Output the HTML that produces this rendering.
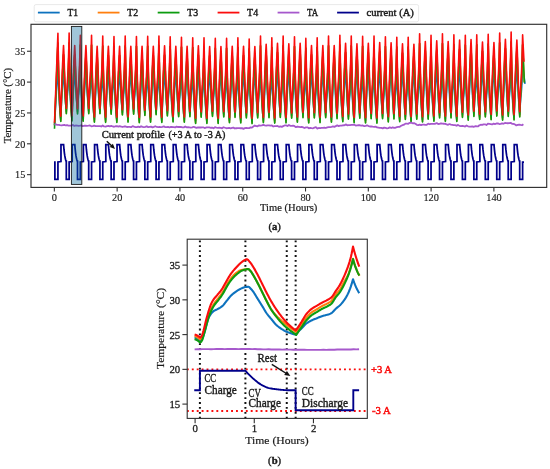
<!DOCTYPE html>
<html lang="en"><head><meta charset="utf-8"><title>Figure</title>
<style>html,body{margin:0;padding:0;background:#fff}body{width:550px;height:469px;overflow:hidden}</style></head>
<body>
<svg width="550" height="469" viewBox="0 0 550 469" style="display:block;font-family:'Liberation Serif',serif">
<style>text{stroke:#1a1a1a;stroke-width:0.4px;paint-order:stroke}text.r{stroke:#fb0d0d}text.t{stroke-width:0.15px}text.ax{stroke-width:0.2px}text.tb{stroke-width:0.3px}text.r{stroke-width:0.5px}</style>
<rect width="550" height="469" fill="#ffffff"/>
<clipPath id="ca"><rect x="31.0" y="24.3" width="515.7" height="163.1"/></clipPath>
<g clip-path="url(#ca)" fill="none" stroke-linejoin="round" stroke-linecap="butt">
<polyline points="54.50,125.29 54.88,118.56 55.26,111.82 55.64,105.09 56.02,98.35 56.41,91.62 56.79,84.88 57.17,78.15 57.55,71.41 57.93,64.68 58.25,76.55 58.56,85.99 58.88,93.58 59.20,99.76 59.52,104.89 59.83,109.21 60.15,112.93 60.47,116.18 60.78,119.08 61.09,111.52 61.39,104.73 61.70,98.97 62.00,93.71 62.31,88.68 62.61,83.90 62.92,79.26 63.22,75.19 63.53,71.60 63.84,75.53 64.15,81.04 64.46,86.94 64.77,92.20 65.08,97.04 65.39,101.05 65.70,104.63 66.02,108.06 66.33,111.33 66.64,106.12 66.95,99.82 67.26,96.18 67.57,93.03 67.88,89.90 68.19,85.72 68.50,80.09 68.81,73.36 69.13,64.62 69.44,76.39 69.76,85.75 70.08,93.28 70.40,99.42 70.71,104.50 71.03,108.79 71.35,112.47 71.66,115.70 71.98,118.58 72.29,111.10 72.59,104.38 72.90,98.68 73.20,93.47 73.51,88.50 73.81,83.77 74.12,79.18 74.42,75.15 74.73,71.60 75.04,75.54 75.35,81.07 75.66,86.98 75.97,92.26 76.28,97.12 76.59,101.14 76.91,104.73 77.22,108.17 77.53,111.45 77.84,106.38 78.15,100.25 78.46,96.70 78.77,93.64 79.08,90.59 79.39,86.52 79.71,81.05 80.02,74.49 80.33,65.98 80.65,77.50 80.96,86.66 81.28,94.02 81.60,100.03 81.92,105.00 82.23,109.20 82.55,112.80 82.87,115.96 83.19,118.77 83.49,111.26 83.80,104.52 84.10,98.80 84.41,93.56 84.71,88.57 85.02,83.82 85.32,79.21 85.63,75.16 85.93,71.60 86.24,75.51 86.56,81.01 86.87,86.88 87.18,92.13 87.49,96.95 87.80,100.94 88.11,104.52 88.42,107.93 88.74,111.19 89.05,106.15 89.36,100.05 89.67,96.53 89.98,93.48 90.29,90.45 90.60,86.40 90.91,80.96 91.23,74.44 91.54,65.98 91.86,77.70 92.17,87.01 92.49,94.50 92.81,100.61 93.13,105.67 93.44,109.94 93.76,113.60 94.08,116.81 94.40,119.68 94.70,112.10 95.01,105.28 95.31,99.51 95.62,94.22 95.92,89.18 96.23,84.38 96.54,79.73 96.84,75.64 97.15,72.04 97.46,75.92 97.77,81.37 98.08,87.19 98.39,92.40 98.70,97.17 99.02,101.13 99.33,104.68 99.64,108.06 99.95,111.29 100.26,106.30 100.57,100.25 100.88,96.76 101.20,93.74 101.51,90.73 101.82,86.72 102.13,81.33 102.44,74.86 102.75,66.48 103.07,78.13 103.39,87.40 103.71,94.84 104.03,100.92 104.34,105.95 104.66,110.19 104.98,113.84 105.30,117.03 105.62,119.88 105.92,112.26 106.23,105.42 106.53,99.62 106.84,94.31 107.14,89.25 107.45,84.43 107.75,79.76 108.06,75.65 108.37,72.04 108.68,75.96 108.99,81.47 109.30,87.36 109.61,92.62 109.92,97.45 110.24,101.46 110.55,105.04 110.86,108.46 111.17,111.73 111.48,106.71 111.79,100.64 112.11,97.13 112.42,94.10 112.73,91.08 113.04,87.05 113.35,81.64 113.67,75.15 113.98,66.72 114.30,78.35 114.61,87.59 114.93,95.02 115.25,101.08 115.57,106.10 115.89,110.33 116.20,113.97 116.52,117.16 116.84,120.00 117.15,112.36 117.45,105.51 117.76,99.69 118.06,94.37 118.37,89.30 118.68,84.46 118.98,79.78 119.29,75.66 119.59,72.04 119.90,76.05 120.22,81.67 120.53,87.69 120.84,93.06 121.15,98.00 121.46,102.09 121.78,105.74 122.09,109.24 122.40,112.58 122.71,107.44 123.02,101.22 123.34,97.62 123.65,94.52 123.96,91.43 124.27,87.30 124.58,81.75 124.90,75.11 125.21,66.48 125.53,78.08 125.84,87.29 126.16,94.71 126.48,100.75 126.80,105.76 127.12,109.98 127.44,113.61 127.75,116.78 128.07,119.62 128.38,112.05 128.68,105.24 128.99,99.47 129.30,94.19 129.60,89.16 129.91,84.36 130.21,79.72 130.52,75.63 130.83,72.04 131.14,75.97 131.45,81.48 131.76,87.38 132.07,92.64 132.39,97.47 132.70,101.48 133.01,105.07 133.32,108.49 133.64,111.76 133.95,106.74 134.26,100.67 134.57,97.15 134.88,94.12 135.20,91.10 135.51,87.07 135.82,81.65 136.13,75.15 136.44,66.72 136.76,78.41 137.08,87.69 137.40,95.16 137.72,101.24 138.04,106.29 138.36,110.54 138.67,114.20 138.99,117.40 139.31,120.25 139.62,112.58 139.92,105.68 140.23,99.84 140.54,94.49 140.84,89.39 141.15,84.53 141.45,79.82 141.76,75.68 142.07,72.04 142.38,76.09 142.69,81.78 143.00,87.86 143.32,93.29 143.63,98.28 143.94,102.41 144.25,106.11 144.57,109.64 144.88,113.02 145.19,107.85 145.50,101.60 145.81,97.98 146.13,94.86 146.44,91.75 146.75,87.60 147.06,82.02 147.38,75.34 147.69,66.66 148.01,78.23 148.33,87.42 148.64,94.81 148.96,100.83 149.28,105.82 149.60,110.03 149.92,113.65 150.24,116.82 150.56,119.65 150.86,112.09 151.17,105.30 151.48,99.54 151.78,94.27 152.09,89.25 152.39,84.46 152.70,79.83 153.01,75.75 153.31,72.16 153.63,76.13 153.94,81.68 154.25,87.63 154.56,92.94 154.88,97.81 155.19,101.85 155.50,105.47 155.81,108.92 156.13,112.22 156.44,107.12 156.75,100.93 157.06,97.36 157.38,94.28 157.69,91.21 158.00,87.11 158.31,81.59 158.63,74.99 158.94,66.41 159.26,78.09 159.58,87.36 159.90,94.82 160.22,100.90 160.53,105.94 160.85,110.19 161.17,113.84 161.49,117.04 161.81,119.89 162.12,112.25 162.42,105.38 162.73,99.55 163.04,94.22 163.34,89.14 163.65,84.29 163.96,79.61 164.26,75.48 164.57,71.85 164.88,75.96 165.19,81.72 165.51,87.89 165.82,93.39 166.13,98.45 166.44,102.64 166.76,106.39 167.07,109.97 167.38,113.39 167.70,108.21 168.01,101.92 168.32,98.29 168.63,95.16 168.95,92.04 169.26,87.87 169.57,82.27 169.88,75.56 170.20,66.85 170.52,78.33 170.84,87.45 171.15,94.79 171.47,100.77 171.79,105.72 172.11,109.90 172.43,113.49 172.75,116.64 173.07,119.45 173.38,111.90 173.68,105.12 173.99,99.37 174.30,94.11 174.60,89.10 174.91,84.32 175.22,79.69 175.52,75.62 175.83,72.04 176.14,76.21 176.46,82.07 176.77,88.34 177.08,93.93 177.39,99.07 177.71,103.33 178.02,107.14 178.33,110.78 178.65,114.25 178.96,109.01 179.27,102.65 179.58,98.98 179.90,95.80 180.21,92.65 180.52,88.43 180.84,82.76 181.15,75.97 181.46,67.16 181.78,78.65 182.10,87.78 182.42,95.12 182.74,101.11 183.06,106.06 183.38,110.25 183.70,113.84 184.02,116.99 184.34,119.80 184.64,112.20 184.95,105.37 185.26,99.57 185.56,94.28 185.87,89.22 186.18,84.41 186.48,79.75 186.79,75.65 187.10,72.04 187.41,76.21 187.72,82.06 188.04,88.32 188.35,93.90 188.66,99.03 188.98,103.29 189.29,107.09 189.60,110.73 189.92,114.20 190.23,108.99 190.54,102.69 190.85,99.04 191.17,95.89 191.48,92.76 191.79,88.58 192.11,82.95 192.42,76.22 192.73,67.47 193.05,79.17 193.37,88.46 193.69,95.94 194.01,102.04 194.33,107.09 194.65,111.34 194.97,115.00 195.29,118.21 195.61,121.07 195.92,113.21 196.22,106.16 196.53,100.17 196.84,94.70 197.14,89.48 197.45,84.50 197.76,79.69 198.07,75.45 198.37,71.72 198.69,75.98 199.00,81.96 199.31,88.35 199.63,94.06 199.94,99.30 200.25,103.64 200.57,107.53 200.88,111.25 201.19,114.79 201.51,109.52 201.82,103.13 202.13,99.44 202.45,96.25 202.76,93.08 203.07,88.85 203.39,83.15 203.70,76.33 204.01,67.47 204.33,79.14 204.65,88.42 204.97,95.88 205.29,101.96 205.61,107.00 205.93,111.25 206.25,114.90 206.57,118.09 206.89,120.95 207.20,113.19 207.50,106.23 207.81,100.32 208.12,94.91 208.43,89.76 208.73,84.85 209.04,80.09 209.35,75.91 209.65,72.23 209.97,76.35 210.28,82.13 210.59,88.32 210.91,93.84 211.22,98.92 211.54,103.12 211.85,106.88 212.16,110.48 212.48,113.91 212.79,108.78 213.10,102.57 213.42,98.99 213.73,95.89 214.04,92.80 214.36,88.69 214.67,83.15 214.98,76.51 215.30,67.90 215.62,79.51 215.94,88.74 216.26,96.16 216.58,102.21 216.90,107.22 217.22,111.44 217.54,115.08 217.86,118.26 218.18,121.10 218.48,113.32 218.79,106.33 219.10,100.40 219.41,94.98 219.71,89.81 220.02,84.88 220.33,80.12 220.64,75.92 220.94,72.23 221.26,76.40 221.57,82.25 221.88,88.51 222.20,94.10 222.51,99.23 222.83,103.49 223.14,107.29 223.45,110.93 223.77,114.40 224.08,109.22 224.39,102.95 224.71,99.32 225.02,96.19 225.33,93.07 225.65,88.91 225.96,83.31 226.28,76.61 226.59,67.90 226.91,79.35 227.23,88.44 227.55,95.75 227.87,101.72 228.19,106.66 228.51,110.82 228.83,114.40 229.15,117.54 229.47,120.34 229.78,112.65 230.09,105.74 230.39,99.88 230.70,94.53 231.01,89.42 231.32,84.55 231.62,79.84 231.93,75.69 232.24,72.04 232.55,76.27 232.87,82.21 233.18,88.57 233.49,94.24 233.81,99.46 234.12,103.78 234.44,107.64 234.75,111.34 235.06,114.86 235.38,109.58 235.69,103.18 236.01,99.49 236.32,96.29 236.63,93.12 236.95,88.88 237.26,83.17 237.57,76.34 237.89,67.47 238.21,79.03 238.53,88.21 238.85,95.60 239.17,101.62 239.49,106.61 239.81,110.82 240.13,114.43 240.45,117.60 240.77,120.43 241.08,112.73 241.39,105.81 241.69,99.94 242.00,94.57 242.31,89.45 242.62,84.57 242.93,79.85 243.23,75.70 243.54,72.04 243.86,76.33 244.17,82.36 244.48,88.81 244.80,94.56 245.11,99.85 245.43,104.23 245.74,108.15 246.05,111.90 246.37,115.47 246.68,110.22 247.00,103.86 247.31,100.18 247.62,97.01 247.94,93.85 248.25,89.63 248.57,83.95 248.88,77.16 249.19,68.34 249.51,79.86 249.84,89.02 250.16,96.38 250.48,102.38 250.80,107.36 251.12,111.55 251.44,115.16 251.76,118.31 252.08,121.13 252.39,113.35 252.70,106.35 253.00,100.42 253.31,95.00 253.62,89.82 253.93,84.89 254.23,80.12 254.54,75.92 254.85,72.23 255.17,76.50 255.48,82.48 255.79,88.89 256.11,94.61 256.42,99.86 256.74,104.21 257.05,108.11 257.36,111.83 257.68,115.38 257.99,109.93 258.31,103.32 258.62,99.50 258.94,96.20 259.25,92.92 259.56,88.54 259.88,82.64 260.19,75.58 260.51,66.41 260.83,78.14 261.15,87.45 261.47,94.94 261.79,101.05 262.11,106.11 262.43,110.38 262.75,114.04 263.07,117.26 263.39,120.12 263.70,112.28 264.01,105.23 264.32,99.25 264.63,93.79 264.93,88.57 265.24,83.60 265.55,78.80 265.86,74.57 266.17,70.84 266.48,75.23 266.80,81.38 267.11,87.96 267.42,93.83 267.74,99.23 268.05,103.70 268.37,107.70 268.68,111.53 269.00,115.17 269.31,109.86 269.63,103.42 269.94,99.70 270.25,96.48 270.57,93.29 270.88,89.02 271.20,83.28 271.51,76.40 271.83,67.47 272.15,79.07 272.47,88.29 272.79,95.71 273.11,101.76 273.43,106.77 273.75,110.99 274.07,114.62 274.39,117.80 274.72,120.64 275.02,112.60 275.33,105.38 275.64,99.26 275.95,93.66 276.26,88.32 276.57,83.22 276.87,78.30 277.18,73.96 277.49,70.15 277.81,74.59 278.12,80.82 278.43,87.49 278.75,93.44 279.06,98.91 279.38,103.44 279.69,107.49 280.01,111.37 280.32,115.06 280.64,109.64 280.95,103.08 281.27,99.28 281.58,96.00 281.90,92.75 282.21,88.39 282.52,82.53 282.84,75.52 283.15,66.41 283.47,78.19 283.80,87.55 284.12,95.07 284.44,101.21 284.76,106.29 285.08,110.58 285.40,114.26 285.72,117.49 286.04,120.37 286.35,112.45 286.66,105.33 286.97,99.29 287.28,93.77 287.59,88.50 287.90,83.48 288.20,78.63 288.51,74.35 288.82,70.59 289.14,75.04 289.45,81.29 289.77,87.98 290.08,93.95 290.39,99.43 290.71,103.98 291.02,108.04 291.34,111.93 291.65,115.64 291.97,110.20 292.28,103.62 292.60,99.81 292.91,96.52 293.23,93.26 293.54,88.89 293.86,83.01 294.17,75.98 294.49,66.85 294.81,78.41 295.13,87.59 295.45,94.97 295.77,100.99 296.09,105.98 296.42,110.19 296.74,113.80 297.06,116.97 297.38,119.79 297.69,111.89 298.00,104.79 298.31,98.77 298.61,93.26 298.92,88.01 299.23,83.01 299.54,78.16 299.85,73.90 300.16,70.15 300.47,74.60 300.79,80.84 301.10,87.53 301.42,93.49 301.73,98.97 302.05,103.51 302.36,107.57 302.68,111.45 302.99,115.15 303.31,109.89 303.62,103.51 303.94,99.83 304.25,96.64 304.57,93.48 304.88,89.25 305.20,83.56 305.51,76.75 305.83,67.90 306.15,79.40 306.47,88.54 306.79,95.89 307.11,101.88 307.44,106.85 307.76,111.03 308.08,114.63 308.40,117.78 308.72,120.59 309.03,112.79 309.34,105.79 309.65,99.84 309.96,94.41 310.27,89.23 310.58,84.29 310.88,79.51 311.19,75.30 311.50,71.60 311.82,75.94 312.13,82.03 312.45,88.54 312.76,94.36 313.08,99.70 313.39,104.12 313.71,108.08 314.02,111.87 314.34,115.48 314.65,110.13 314.97,103.65 315.28,99.91 315.60,96.67 315.91,93.46 316.23,89.16 316.55,83.38 316.86,76.46 317.18,67.47 317.50,78.96 317.82,88.09 318.14,95.43 318.46,101.42 318.78,106.38 319.11,110.56 319.43,114.15 319.75,117.30 320.07,120.11 320.38,112.39 320.69,105.45 321.00,99.57 321.31,94.19 321.62,89.05 321.93,84.16 322.23,79.43 322.54,75.26 322.85,71.60 323.17,75.91 323.48,81.95 323.80,88.42 324.11,94.19 324.43,99.49 324.75,103.89 325.06,107.82 325.38,111.58 325.69,115.16 326.01,109.73 326.32,103.15 326.64,99.35 326.95,96.07 327.27,92.80 327.58,88.44 327.90,82.57 328.21,75.54 328.53,66.41 328.85,78.06 329.17,87.31 329.50,94.75 329.82,100.81 330.14,105.84 330.46,110.08 330.78,113.72 331.11,116.91 331.43,119.76 331.74,112.09 332.05,105.20 332.35,99.36 332.66,94.02 332.97,88.93 333.28,84.07 333.59,79.37 333.90,75.24 334.21,71.60 334.53,76.01 334.84,82.20 335.16,88.82 335.47,94.74 335.79,100.17 336.10,104.67 336.42,108.70 336.74,112.54 337.05,116.22 337.37,110.62 337.68,103.84 338.00,99.92 338.31,96.54 338.63,93.17 338.94,88.67 339.26,82.63 339.58,75.38 339.89,65.98 340.21,77.63 340.54,86.88 340.86,94.32 341.18,100.38 341.50,105.41 341.82,109.65 342.15,113.29 342.47,116.48 342.79,119.33 343.10,111.50 343.41,104.47 343.72,98.50 344.03,93.05 344.34,87.85 344.65,82.89 344.96,78.09 345.27,73.87 345.58,70.15 345.89,74.74 346.21,81.19 346.52,88.09 346.84,94.25 347.15,99.91 347.47,104.60 347.79,108.79 348.10,112.80 348.42,116.62 348.73,111.03 349.05,104.25 349.36,100.34 349.68,96.95 350.00,93.59 350.31,89.10 350.63,83.05 350.94,75.81 351.26,66.41 351.58,78.15 351.90,87.47 352.23,94.96 352.55,101.07 352.87,106.14 353.19,110.41 353.52,114.07 353.84,117.29 354.16,120.16 354.47,112.27 354.78,105.18 355.09,99.17 355.40,93.67 355.71,88.43 356.02,83.43 356.33,78.59 356.64,74.34 356.95,70.59 357.26,75.06 357.58,81.33 357.89,88.04 358.21,94.03 358.53,99.53 358.84,104.09 359.16,108.17 359.47,112.07 359.79,115.79 360.11,110.31 360.42,103.68 360.74,99.85 361.05,96.54 361.37,93.25 361.69,88.85 362.00,82.94 362.32,75.86 362.63,66.66 362.96,78.42 363.28,87.76 363.60,95.27 363.92,101.40 364.25,106.47 364.57,110.75 364.89,114.43 365.21,117.65 365.54,120.53 365.85,112.51 366.16,105.30 366.47,99.19 366.78,93.61 367.09,88.28 367.40,83.20 367.71,78.28 368.02,73.96 368.33,70.15 368.64,74.72 368.96,81.13 369.27,87.99 369.59,94.11 369.91,99.73 370.22,104.39 370.54,108.56 370.85,112.55 371.17,116.35 371.49,110.78 371.80,104.04 372.12,100.15 372.44,96.79 372.75,93.44 373.07,88.97 373.38,82.96 373.70,75.76 374.02,66.41 374.34,78.26 374.66,87.66 374.98,95.23 375.31,101.40 375.63,106.51 375.95,110.82 376.27,114.52 376.60,117.77 376.92,120.66 377.23,112.55 377.54,105.26 377.85,99.08 378.16,93.43 378.47,88.04 378.78,82.90 379.09,77.93 379.40,73.56 379.71,69.71 380.03,74.31 380.34,80.76 380.66,87.66 380.98,93.83 381.29,99.49 381.61,104.18 381.93,108.38 382.24,112.39 382.56,116.22 382.87,110.72 383.19,104.05 383.51,100.20 383.82,96.88 384.14,93.57 384.46,89.15 384.77,83.21 385.09,76.09 385.40,66.85 385.73,78.34 386.05,87.47 386.37,94.82 386.70,100.80 387.02,105.77 387.34,109.95 387.67,113.54 387.99,116.69 388.31,119.50 388.62,111.62 388.93,104.53 389.24,98.52 389.55,93.03 389.86,87.79 390.17,82.79 390.48,77.96 390.79,73.70 391.10,69.96 391.42,74.56 391.74,81.02 392.05,87.93 392.37,94.10 392.69,99.77 393.00,104.46 393.32,108.67 393.64,112.68 393.95,116.51 394.27,111.01 394.58,104.35 394.90,100.50 395.22,97.18 395.53,93.87 395.85,89.45 396.17,83.51 396.48,76.40 396.80,67.16 397.12,78.54 397.45,87.58 397.77,94.85 398.09,100.78 398.42,105.69 398.74,109.83 399.06,113.39 399.39,116.51 399.71,119.29 400.02,111.54 400.33,104.57 400.64,98.67 400.95,93.27 401.26,88.11 401.57,83.20 401.88,78.45 402.19,74.27 402.50,70.59 402.82,75.19 403.14,81.63 403.45,88.53 403.77,94.69 404.09,100.34 404.40,105.03 404.72,109.23 405.04,113.24 405.35,117.06 405.67,111.50 405.99,104.76 406.30,100.87 406.62,97.51 406.94,94.17 407.25,89.70 407.57,83.69 407.89,76.50 408.20,67.16 408.53,78.59 408.85,87.67 409.17,94.98 409.50,100.93 409.82,105.87 410.14,110.03 410.47,113.60 410.79,116.73 411.11,119.53 411.42,111.78 411.73,104.82 412.04,98.91 412.36,93.51 412.67,88.36 412.98,83.45 413.29,78.70 413.60,74.52 413.91,70.84 414.23,75.38 414.54,81.76 414.86,88.58 415.18,94.66 415.49,100.25 415.81,104.89 416.13,109.03 416.44,112.99 416.76,116.77 417.08,111.00 417.39,104.02 417.71,99.98 418.03,96.49 418.35,93.02 418.66,88.38 418.98,82.15 419.30,74.68 419.61,64.99 419.94,76.90 420.26,86.37 420.58,93.99 420.91,100.19 421.23,105.34 421.55,109.67 421.88,113.40 422.20,116.67 422.52,119.58 422.83,111.54 423.15,104.32 423.46,98.19 423.77,92.59 424.08,87.25 424.39,82.16 424.70,77.23 425.01,72.89 425.32,69.08 425.64,73.79 425.96,80.39 426.27,87.46 426.59,93.77 426.91,99.56 427.22,104.37 427.54,108.67 427.86,112.77 428.18,116.69 428.49,111.04 428.81,104.20 429.13,100.24 429.44,96.83 429.76,93.43 430.08,88.89 430.40,82.78 430.71,75.47 431.03,65.98 431.35,77.50 431.68,86.65 432.00,94.01 432.32,100.01 432.65,104.98 432.97,109.17 433.29,112.77 433.62,115.93 433.94,118.75 434.25,110.77 434.56,103.60 434.88,97.53 435.19,91.97 435.50,86.67 435.81,81.61 436.12,76.73 436.43,72.42 436.74,68.64 437.06,73.27 437.38,79.77 437.69,86.72 438.01,92.92 438.33,98.62 438.64,103.35 438.96,107.58 439.28,111.62 439.60,115.47 439.91,109.84 440.23,103.03 440.55,99.09 440.87,95.69 441.18,92.31 441.50,87.79 441.82,81.72 442.14,74.44 442.45,64.99 442.78,76.75 443.10,86.10 443.42,93.61 443.75,99.74 444.07,104.82 444.40,109.10 444.72,112.78 445.04,116.00 445.37,118.88 445.68,110.95 445.99,103.83 446.30,97.79 446.61,92.27 446.92,87.00 447.23,81.98 447.55,77.12 447.86,72.84 448.17,69.08 448.49,73.66 448.80,80.09 449.12,86.97 449.44,93.12 449.76,98.76 450.07,103.44 450.39,107.62 450.71,111.62 451.03,115.43 451.34,109.89 451.66,103.19 451.98,99.31 452.30,95.96 452.61,92.63 452.93,88.18 453.25,82.20 453.57,75.03 453.88,65.73 454.21,77.38 454.53,86.63 454.86,94.07 455.18,100.14 455.50,105.16 455.83,109.40 456.15,113.05 456.48,116.24 456.80,119.08 457.11,110.98 457.42,103.71 457.73,97.53 458.04,91.89 458.36,86.51 458.67,81.37 458.98,76.41 459.29,72.04 459.60,68.20 459.92,72.81 460.24,79.30 460.55,86.23 460.87,92.42 461.19,98.10 461.51,102.82 461.83,107.03 462.14,111.06 462.46,114.90 462.78,109.45 463.10,102.85 463.41,99.03 463.73,95.74 464.05,92.46 464.37,88.08 464.68,82.19 465.00,75.14 465.32,65.98 465.64,77.28 465.97,86.26 466.29,93.48 466.62,99.36 466.94,104.24 467.27,108.35 467.59,111.89 467.91,114.98 468.24,117.75 468.55,109.81 468.86,102.68 469.17,96.63 469.48,91.10 469.80,85.82 470.11,80.80 470.42,75.93 470.73,71.65 471.04,67.88 471.36,72.44 471.68,78.84 472.00,85.68 472.31,91.79 472.63,97.40 472.95,102.05 473.27,106.21 473.59,110.19 473.90,113.98 474.22,108.61 474.54,102.10 474.86,98.33 475.17,95.08 475.49,91.85 475.81,87.53 476.13,81.72 476.45,74.76 476.76,65.73 477.09,76.93 477.41,85.83 477.74,92.99 478.06,98.82 478.39,103.66 478.71,107.73 479.04,111.24 479.36,114.30 479.68,117.04 480.00,109.46 480.31,102.64 480.62,96.86 480.93,91.58 481.24,86.54 481.55,81.73 481.87,77.09 482.18,72.99 482.49,69.39 482.81,73.86 483.13,80.14 483.44,86.85 483.76,92.84 484.08,98.34 484.40,102.90 484.72,106.98 485.03,110.89 485.35,114.60 485.67,109.11 485.99,102.46 486.31,98.61 486.62,95.29 486.94,91.99 487.26,87.57 487.58,81.64 487.90,74.53 488.21,65.30 488.54,76.65 488.86,85.66 489.19,92.91 489.51,98.82 489.84,103.72 490.16,107.85 490.49,111.40 490.81,114.51 491.14,117.28 491.45,109.71 491.76,102.91 492.07,97.14 492.38,91.86 492.70,86.83 493.01,82.03 493.32,77.39 493.63,73.30 493.94,69.71 494.26,74.05 494.58,80.14 494.90,86.66 495.22,92.48 495.54,97.82 495.85,102.25 496.17,106.21 496.49,110.00 496.81,113.62 497.13,108.15 497.44,101.53 497.76,97.70 498.08,94.40 498.40,91.11 498.72,86.72 499.04,80.81 499.35,73.74 499.67,64.55 500.00,76.15 500.32,85.37 500.65,92.78 500.97,98.83 501.30,103.83 501.62,108.05 501.95,111.68 502.27,114.86 502.60,117.70 502.91,109.73 503.22,102.57 503.53,96.49 503.84,90.94 504.16,85.64 504.47,80.60 504.78,75.71 505.09,71.41 505.41,67.63 505.72,72.21 506.04,78.63 506.36,85.51 506.68,91.64 507.00,97.28 507.32,101.95 507.63,106.13 507.95,110.13 508.27,113.93 508.59,108.37 508.91,101.63 509.23,97.74 509.55,94.37 509.86,91.03 510.18,86.56 510.50,80.54 510.82,73.34 511.14,64.00 511.46,75.67 511.79,84.94 512.11,92.40 512.44,98.48 512.76,103.52 513.09,107.77 513.41,111.42 513.74,114.62 514.06,117.47 514.38,109.63 514.69,102.58 515.00,96.61 515.31,91.14 515.62,85.93 515.94,80.96 516.25,76.15 516.56,71.92 516.87,68.20 517.19,72.77 517.51,79.19 517.83,86.06 518.15,92.19 518.47,97.82 518.79,102.49 519.10,106.67 519.42,110.66 519.74,114.47 520.06,109.04 520.38,102.46 520.70,98.66 521.02,95.37 521.33,92.11 521.65,87.75 521.97,81.88 522.29,74.85 522.61,65.73 525.00,83.95" stroke="#0d72be" stroke-width="1.6"/>
<polyline points="54.50,125.29 54.88,116.14 55.26,106.99 55.64,97.84 56.02,88.69 56.41,79.54 56.79,70.40 57.17,61.25 57.55,52.10 57.93,42.95 58.25,59.97 58.56,73.50 58.88,84.37 59.20,93.24 59.52,100.59 59.83,106.78 60.15,112.11 60.47,116.77 60.78,120.93 61.09,110.38 61.39,100.90 61.70,92.86 62.00,85.50 62.31,78.49 62.61,71.80 62.92,65.34 63.22,59.64 63.53,54.63 63.84,60.42 64.15,68.54 64.46,77.24 64.77,84.99 65.08,92.12 65.39,98.03 65.70,103.31 66.02,108.36 66.33,113.18 66.64,105.34 66.95,95.85 67.26,90.37 67.57,85.63 67.88,80.92 68.19,74.62 68.50,66.15 68.81,56.01 69.13,42.85 69.44,59.78 69.76,73.24 70.08,84.06 70.40,92.88 70.71,100.19 71.03,106.35 71.35,111.65 71.66,116.29 71.98,120.43 72.29,109.96 72.59,100.55 72.90,92.57 73.20,85.27 73.51,78.31 73.81,71.67 74.12,65.25 74.42,59.60 74.73,54.63 75.04,60.43 75.35,68.57 75.66,77.28 75.97,85.06 76.28,92.20 76.59,98.12 76.91,103.41 77.22,108.47 77.53,113.30 77.84,105.70 78.15,96.49 78.46,91.16 78.77,86.56 79.08,81.99 79.39,75.88 79.71,67.67 80.02,57.83 80.33,45.05 80.65,61.55 80.96,74.65 81.28,85.19 81.60,93.79 81.92,100.91 82.23,106.91 82.55,112.07 82.87,116.59 83.19,120.63 83.49,110.12 83.80,100.68 84.10,92.68 84.41,85.36 84.71,78.38 85.02,71.72 85.32,65.29 85.63,59.62 85.93,54.63 86.24,60.41 86.56,68.51 86.87,77.18 87.18,84.92 87.49,92.03 87.80,97.93 88.11,103.20 88.42,108.24 88.74,113.04 89.05,105.47 89.36,96.29 89.67,90.99 89.98,86.41 90.29,81.85 90.60,75.77 90.91,67.58 91.23,57.78 91.54,45.05 91.86,61.74 92.17,75.01 92.49,85.67 92.81,94.37 93.13,101.58 93.44,107.65 93.76,112.88 94.08,117.45 94.40,121.53 94.70,110.99 95.01,101.53 95.31,93.50 95.62,86.16 95.92,79.15 96.23,72.48 96.54,66.02 96.84,60.33 97.15,55.33 97.46,61.05 97.77,69.07 98.08,77.65 98.39,85.31 98.70,92.35 99.02,98.18 99.33,103.40 99.64,108.39 99.95,113.14 100.26,105.65 100.57,96.56 100.88,91.32 101.20,86.78 101.51,82.27 101.82,76.25 102.13,68.15 102.44,58.45 102.75,45.85 103.07,62.41 103.39,75.57 103.71,86.16 104.03,94.78 104.34,101.93 104.66,107.96 104.98,113.14 105.30,117.68 105.62,121.73 105.92,111.16 106.23,101.67 106.53,93.61 106.84,86.25 107.14,79.22 107.45,72.53 107.75,66.05 108.06,60.35 108.37,55.33 108.68,61.09 108.99,69.17 109.30,77.82 109.61,85.54 109.92,92.63 110.24,98.51 110.55,103.76 110.86,108.79 111.17,113.58 111.48,106.08 111.79,96.99 112.11,91.74 112.42,87.20 112.73,82.69 113.04,76.67 113.35,68.56 113.67,58.85 113.98,46.25 114.30,62.75 114.61,75.86 114.93,86.41 115.25,95.00 115.57,102.13 115.89,108.13 116.20,113.29 116.52,117.81 116.84,121.85 117.15,111.26 117.45,101.75 117.76,93.68 118.06,86.30 118.37,79.27 118.68,72.56 118.98,66.07 119.29,60.36 119.59,55.33 119.90,61.18 120.22,69.38 120.53,78.15 120.84,85.98 121.15,93.17 121.46,99.14 121.78,104.47 122.09,109.57 122.40,114.43 122.71,106.79 123.02,97.53 123.34,92.18 123.65,87.56 123.96,82.97 124.27,76.83 124.58,68.57 124.90,58.69 125.21,45.85 125.53,62.36 125.84,75.47 126.16,86.02 126.48,94.62 126.80,101.74 127.12,107.75 127.44,112.91 127.75,117.44 128.07,121.47 128.38,110.94 128.68,101.49 128.99,93.46 129.30,86.13 129.60,79.13 129.91,72.46 130.21,66.01 130.52,60.33 130.83,55.33 131.14,61.10 131.45,69.18 131.76,77.83 132.07,85.56 132.39,92.65 132.70,98.53 133.01,103.79 133.32,108.82 133.64,113.61 133.95,106.11 134.26,97.02 134.57,91.76 134.88,87.22 135.20,82.71 135.51,76.68 135.82,68.57 136.13,58.86 136.44,46.25 136.76,62.81 137.08,75.96 137.40,86.54 137.72,95.17 138.04,102.31 138.36,108.34 138.67,113.52 138.99,118.06 139.31,122.11 139.62,111.48 139.92,101.93 140.23,93.83 140.54,86.42 140.84,79.36 141.15,72.62 141.45,66.11 141.76,60.38 142.07,55.33 142.38,61.22 142.69,69.48 143.00,78.32 143.32,86.21 143.63,93.45 143.94,99.46 144.25,104.83 144.57,109.97 144.88,114.87 145.19,107.21 145.50,97.94 145.81,92.58 146.13,87.95 146.44,83.34 146.75,77.19 147.06,68.92 147.38,59.01 147.69,46.15 148.01,62.60 148.33,75.66 148.64,86.17 148.96,94.74 149.28,101.84 149.60,107.83 149.92,112.97 150.24,117.48 150.56,121.50 150.86,111.00 151.17,101.56 151.48,93.56 151.78,86.25 152.09,79.27 152.39,72.62 152.70,66.18 153.01,60.52 153.31,55.53 153.63,61.32 153.94,69.44 154.25,78.13 154.56,85.89 154.88,93.01 155.19,98.92 155.50,104.20 155.81,109.25 156.13,114.07 156.44,106.46 156.75,97.24 157.06,91.91 157.38,87.31 157.69,82.73 158.00,76.61 158.31,68.39 158.63,58.54 158.94,45.75 159.26,62.34 159.58,75.52 159.90,86.12 160.22,94.76 160.53,101.92 160.85,107.96 161.17,113.14 161.49,117.69 161.81,121.74 162.12,111.12 162.42,101.59 162.73,93.49 163.04,86.09 163.34,79.04 163.65,72.31 163.96,65.80 164.26,60.07 164.57,55.03 164.88,60.99 165.19,69.34 165.51,78.28 165.82,86.26 166.13,93.58 166.44,99.66 166.76,105.09 167.07,110.29 167.38,115.24 167.70,107.58 168.01,98.29 168.32,92.93 168.63,88.29 168.95,83.69 169.26,77.53 169.57,69.24 169.88,59.33 170.20,46.45 170.52,62.79 170.84,75.77 171.15,86.21 171.47,94.72 171.79,101.77 172.11,107.72 172.43,112.83 172.75,117.30 173.07,121.30 173.38,110.80 173.68,101.36 173.99,93.36 174.30,86.05 174.60,79.07 174.91,72.42 175.22,65.98 175.52,60.32 175.83,55.33 176.14,61.34 176.46,69.77 176.77,78.80 177.08,86.85 177.39,94.24 177.71,100.38 178.02,105.86 178.33,111.10 178.65,116.10 178.96,108.40 179.27,99.07 179.58,93.67 179.90,89.01 180.21,84.38 180.52,78.19 180.84,69.86 181.15,59.89 181.46,46.95 181.78,63.26 182.10,76.21 182.42,86.63 182.74,95.12 183.06,102.16 183.38,108.10 183.70,113.20 184.02,117.66 184.34,121.65 184.64,111.09 184.95,101.61 185.26,93.57 185.56,86.21 185.87,79.19 186.18,72.51 186.48,66.04 186.79,60.34 187.10,55.33 187.41,61.34 187.72,69.76 188.04,78.78 188.35,86.82 188.66,94.21 188.98,100.34 189.29,105.82 189.60,111.06 189.92,116.05 190.23,108.41 190.54,99.15 190.85,93.80 191.17,89.18 191.48,84.58 191.79,78.44 192.11,70.18 192.42,60.29 192.73,47.45 193.05,63.92 193.37,77.01 193.69,87.54 194.01,96.12 194.33,103.23 194.65,109.23 194.97,114.38 195.29,118.89 195.61,122.92 195.92,112.08 196.22,102.35 196.53,94.09 196.84,86.54 197.14,79.33 197.45,72.47 197.76,65.82 198.07,59.98 198.37,54.83 198.69,60.94 199.00,69.52 199.31,78.70 199.63,86.88 199.94,94.41 200.25,100.64 200.57,106.22 200.88,111.55 201.19,116.64 201.51,108.93 201.82,99.59 202.13,94.20 202.45,89.53 202.76,84.90 203.07,78.71 203.39,70.38 203.70,60.40 204.01,47.45 204.33,63.90 204.65,76.97 204.97,87.47 205.29,96.04 205.61,103.14 205.93,109.13 206.25,114.27 206.57,118.78 206.89,122.80 207.20,112.11 207.50,102.50 207.81,94.36 208.12,86.91 208.43,79.80 208.73,73.03 209.04,66.48 209.35,60.71 209.65,55.63 209.97,61.58 210.28,69.92 210.59,78.85 210.91,86.81 211.22,94.13 211.54,100.20 211.85,105.62 212.16,110.81 212.48,115.76 212.79,108.23 213.10,99.10 213.42,93.83 213.73,89.27 214.04,84.74 214.36,78.69 214.67,70.55 214.98,60.80 215.30,48.15 215.62,64.48 215.94,77.45 216.26,87.88 216.58,96.39 216.90,103.43 217.22,109.38 217.54,114.48 217.86,118.95 218.18,122.95 218.48,112.23 218.79,102.61 219.10,94.44 219.41,86.97 219.71,79.85 220.02,73.07 220.33,66.50 220.64,60.72 220.94,55.63 221.26,61.63 221.57,70.04 221.88,79.04 222.20,87.07 222.51,94.45 222.83,100.57 223.14,106.04 223.45,111.27 223.77,116.25 224.08,108.67 224.39,99.48 224.71,94.16 225.02,89.57 225.33,85.01 225.65,78.92 225.96,70.72 226.28,60.90 226.59,48.15 226.91,64.31 227.23,77.15 227.55,87.48 227.87,95.90 228.19,102.87 228.51,108.76 228.83,113.81 229.15,118.24 229.47,122.19 229.78,111.55 230.09,101.99 230.39,93.88 230.70,86.46 231.01,79.39 231.32,72.65 231.62,66.13 231.93,60.38 232.24,55.33 232.55,61.40 232.87,69.92 233.18,79.03 233.49,87.16 233.81,94.63 234.12,100.83 234.44,106.36 234.75,111.66 235.06,116.71 235.38,108.99 235.69,99.65 236.01,94.24 236.32,89.58 236.63,84.94 236.95,78.74 237.26,70.40 237.57,60.41 237.89,47.45 238.21,63.78 238.53,76.76 238.85,87.20 239.17,95.71 239.49,102.76 239.81,108.70 240.13,113.81 240.45,118.29 240.77,122.28 241.08,111.62 241.39,102.05 241.69,93.93 242.00,86.50 242.31,79.42 242.62,72.67 242.93,66.14 243.23,60.39 243.54,55.33 243.86,61.46 244.17,70.06 244.48,79.26 244.80,87.48 245.11,95.02 245.43,101.28 245.74,106.87 246.05,112.22 246.37,117.32 246.68,109.69 247.00,100.45 247.31,95.11 247.62,90.50 247.94,85.91 248.25,79.78 248.57,71.54 248.88,61.67 249.19,48.85 249.51,65.03 249.84,77.89 250.16,88.23 250.48,96.66 250.80,103.64 251.12,109.53 251.44,114.59 251.76,119.02 252.08,122.98 252.39,112.26 252.70,102.63 253.00,94.46 253.31,86.99 253.62,79.87 253.93,73.07 254.23,66.51 254.54,60.72 254.85,55.63 255.17,61.72 255.48,70.27 255.79,79.42 256.11,87.58 256.42,95.07 256.74,101.29 257.05,106.85 257.36,112.16 257.68,117.23 257.99,109.27 258.31,99.62 258.62,94.05 258.94,89.23 259.25,84.44 259.56,78.04 259.88,69.44 260.19,59.13 260.51,45.75 260.83,62.39 261.15,75.61 261.47,86.24 261.79,94.91 262.11,102.09 262.43,108.14 262.75,113.35 263.07,117.90 263.39,121.97 263.70,111.06 264.01,101.26 264.32,92.95 264.63,85.35 264.93,78.09 265.24,71.18 265.55,64.50 265.86,58.61 266.17,53.43 266.48,59.72 266.80,68.54 267.11,77.98 267.42,86.41 267.74,94.15 268.05,100.57 268.37,106.31 268.68,111.79 269.00,117.02 269.31,109.27 269.63,99.88 269.94,94.46 270.25,89.77 270.57,85.11 270.88,78.88 271.20,70.50 271.51,60.47 271.83,47.45 272.15,63.83 272.47,76.84 272.79,87.31 273.11,95.84 273.43,102.91 273.75,108.87 274.07,114.00 274.39,118.48 274.72,122.49 275.02,111.32 275.33,101.29 275.64,92.78 275.95,85.00 276.26,77.57 276.57,70.50 276.87,63.66 277.18,57.63 277.49,52.33 277.81,58.72 278.12,67.68 278.43,77.27 278.75,85.82 279.06,93.68 279.38,100.20 279.69,106.03 280.01,111.60 280.32,116.91 280.64,108.98 280.95,99.38 281.27,93.83 281.58,89.04 281.90,84.27 282.21,77.90 282.52,69.33 282.84,59.07 283.15,45.75 283.47,62.44 283.80,75.70 284.12,86.37 284.44,95.07 284.76,102.27 285.08,108.35 285.40,113.57 285.72,118.14 286.04,122.22 286.35,111.21 286.66,101.31 286.97,92.92 287.28,85.25 287.59,77.93 287.90,70.95 288.20,64.20 288.51,58.26 288.82,53.03 289.14,59.41 289.45,68.35 289.77,77.92 290.08,86.46 290.39,94.30 290.71,100.81 291.02,106.62 291.34,112.19 291.65,117.49 291.97,109.57 292.28,99.99 292.60,94.45 292.91,89.66 293.23,84.90 293.54,78.54 293.86,69.99 294.17,59.75 294.49,46.45 294.81,62.86 295.13,75.90 295.45,86.39 295.77,94.94 296.09,102.03 296.42,108.00 296.74,113.13 297.06,117.63 297.38,121.64 297.69,110.61 298.00,100.70 298.31,92.29 298.61,84.60 298.92,77.27 299.23,70.28 299.54,63.52 299.85,57.57 300.16,52.33 300.47,58.73 300.79,67.70 301.10,77.30 301.42,85.87 301.73,93.74 302.05,100.27 302.36,106.11 302.68,111.69 302.99,117.01 303.31,109.33 303.62,100.04 303.94,94.67 304.25,90.03 304.57,85.42 304.88,79.26 305.20,70.97 305.51,61.04 305.83,48.15 306.15,64.37 306.47,77.25 306.79,87.61 307.11,96.06 307.44,103.06 307.76,108.96 308.08,114.03 308.40,118.48 308.72,122.44 309.03,111.65 309.34,101.95 309.65,93.73 309.96,86.21 310.27,79.03 310.58,72.19 310.88,65.58 311.19,59.76 311.50,54.63 311.82,60.83 312.13,69.53 312.45,78.84 312.76,87.15 313.08,94.78 313.39,101.11 313.71,106.76 314.02,112.17 314.34,117.33 314.65,109.55 314.97,100.12 315.28,94.66 315.60,89.96 315.91,85.27 316.23,79.02 316.55,70.61 316.86,60.53 317.18,47.45 317.50,63.71 317.82,76.64 318.14,87.03 318.46,95.50 318.78,102.52 319.11,108.44 319.43,113.53 319.75,117.99 320.07,121.96 320.38,111.24 320.69,101.62 321.00,93.45 321.31,85.98 321.62,78.86 321.93,72.07 322.23,65.50 322.54,59.72 322.85,54.63 323.17,60.80 323.48,69.46 323.80,78.72 324.11,86.98 324.43,94.57 324.75,100.87 325.06,106.50 325.38,111.88 325.69,117.01 326.01,109.07 326.32,99.46 326.64,93.90 326.95,89.10 327.27,84.32 327.58,77.94 327.90,69.36 328.21,59.09 328.53,45.75 328.85,62.31 329.17,75.46 329.50,86.04 329.82,94.67 330.14,101.82 330.46,107.84 330.78,113.02 331.11,117.56 331.43,121.61 331.74,110.95 332.05,101.37 332.35,93.25 332.66,85.82 332.97,78.73 333.28,71.98 333.59,65.44 333.90,59.69 334.21,54.63 334.53,60.90 334.84,69.71 335.16,79.12 335.47,87.53 335.79,95.25 336.10,101.65 336.42,107.37 336.74,112.85 337.05,118.07 337.37,109.93 337.68,100.08 338.00,94.38 338.31,89.46 338.63,84.57 338.94,78.04 339.26,69.24 339.58,58.72 339.89,45.05 340.21,61.67 340.54,74.87 340.86,85.49 341.18,94.15 341.50,101.32 341.82,107.37 342.15,112.57 342.47,117.12 342.79,121.18 343.10,110.22 343.41,100.38 343.72,92.03 344.03,84.39 344.34,77.11 344.65,70.16 344.96,63.45 345.27,57.53 345.58,52.33 345.89,58.87 346.21,68.05 346.52,77.87 346.84,86.63 347.15,94.68 347.47,101.36 347.79,107.33 348.10,113.03 348.42,118.48 348.73,110.37 349.05,100.56 349.36,94.89 349.68,89.99 350.00,85.11 350.31,78.60 350.63,69.85 350.94,59.36 351.26,45.75 351.58,62.40 351.90,75.62 352.23,86.26 352.55,94.93 352.87,102.11 353.19,108.17 353.52,113.38 353.84,117.94 354.16,122.01 354.47,111.03 354.78,101.17 355.09,92.80 355.40,85.15 355.71,77.85 356.02,70.90 356.33,64.17 356.64,58.24 356.95,53.03 357.26,59.42 357.58,68.38 357.89,77.98 358.21,86.54 358.53,94.40 358.84,100.92 359.16,106.75 359.47,112.32 359.79,117.64 360.11,109.67 360.42,100.02 360.74,94.45 361.05,89.63 361.37,84.84 361.69,78.44 362.00,69.84 362.32,59.53 362.63,46.15 362.96,62.79 363.28,76.01 363.60,86.64 363.92,95.31 364.25,102.49 364.57,108.55 364.89,113.75 365.21,118.31 365.54,122.38 365.85,111.23 366.16,101.21 366.47,92.72 366.78,84.95 367.09,77.54 367.40,70.47 367.71,63.64 368.02,57.62 368.33,52.33 368.64,58.84 368.96,67.98 369.27,77.76 369.59,86.49 369.91,94.51 370.22,101.15 370.54,107.10 370.85,112.78 371.17,118.20 371.49,110.13 371.80,100.35 372.12,94.70 372.44,89.82 372.75,84.96 373.07,78.48 373.38,69.76 373.70,59.31 374.02,45.75 374.34,62.51 374.66,75.82 374.98,86.52 375.31,95.25 375.63,102.49 375.95,108.58 376.27,113.82 376.60,118.41 376.92,122.51 377.23,111.23 377.54,101.09 377.85,92.50 378.16,84.63 378.47,77.14 378.78,69.99 379.09,63.08 379.40,56.99 379.71,51.63 380.03,58.20 380.34,67.42 380.66,77.28 380.98,86.09 381.29,94.17 381.61,100.88 381.93,106.87 382.24,112.60 382.56,118.07 382.87,110.09 383.19,100.42 383.51,94.84 383.82,90.01 384.14,85.21 384.46,78.80 384.77,70.18 385.09,59.86 385.40,46.45 385.73,62.80 386.05,75.79 386.37,86.24 386.70,94.75 387.02,101.81 387.34,107.76 387.67,112.88 387.99,117.36 388.31,121.35 388.62,110.32 388.93,100.41 389.24,92.00 389.55,84.31 389.86,76.97 390.17,69.98 390.48,63.22 390.79,57.27 391.10,52.03 391.42,58.59 391.74,67.79 392.05,77.64 392.37,86.43 392.69,94.50 393.00,101.20 393.32,107.18 393.64,112.91 393.95,118.36 394.27,110.41 394.58,100.77 394.90,95.20 395.22,90.39 395.53,85.60 395.85,79.21 396.17,70.61 396.48,60.32 396.80,46.95 397.12,63.14 397.45,76.01 397.77,86.36 398.09,94.80 398.42,101.79 398.74,107.68 399.06,112.75 399.39,117.18 399.71,121.14 400.02,110.30 400.33,100.56 400.64,92.30 400.95,84.74 401.26,77.54 401.57,70.67 401.88,64.03 402.19,58.18 402.50,53.03 402.82,59.55 403.14,68.69 403.45,78.47 403.77,87.20 404.09,95.21 404.40,101.86 404.72,107.81 405.04,113.49 405.35,118.91 405.67,110.89 405.99,101.18 406.30,95.57 406.62,90.72 406.94,85.90 407.25,79.46 407.57,70.79 407.89,60.42 408.20,46.95 408.53,63.20 408.85,76.10 409.17,86.48 409.50,94.95 409.82,101.96 410.14,107.88 410.47,112.96 410.79,117.41 411.11,121.38 411.42,110.56 411.73,100.85 412.04,92.61 412.36,85.07 412.67,77.88 412.98,71.03 413.29,64.40 413.60,58.57 413.91,53.43 414.23,59.88 414.54,68.92 414.86,78.60 415.18,87.24 415.49,95.17 415.81,101.75 416.13,107.64 416.44,113.26 416.76,118.62 417.08,110.25 417.39,100.10 417.71,94.24 418.03,89.18 418.35,84.14 418.66,77.41 418.98,68.36 419.30,57.52 419.61,43.45 419.94,60.47 420.26,74.00 420.58,84.87 420.91,93.74 421.23,101.09 421.55,107.28 421.88,112.61 422.20,117.27 422.52,121.43 422.83,110.16 423.15,100.04 423.46,91.45 423.77,83.60 424.08,76.11 424.39,68.97 424.70,62.06 425.01,55.98 425.32,50.63 425.64,57.35 425.96,66.77 426.27,76.85 426.59,85.85 426.91,94.11 427.22,100.97 427.54,107.10 427.86,112.96 428.18,118.54 428.49,110.35 428.81,100.44 429.13,94.70 429.44,89.75 429.76,84.83 430.08,78.25 430.40,69.40 430.71,58.81 431.03,45.05 431.35,61.54 431.68,74.64 432.00,85.18 432.32,93.77 432.65,100.89 432.97,106.89 433.29,112.05 433.62,116.57 433.94,120.60 434.25,109.35 434.56,99.24 434.88,90.67 435.19,82.83 435.50,75.36 435.81,68.23 436.12,61.34 436.43,55.27 436.74,49.93 437.06,56.60 437.38,65.95 437.69,75.95 438.01,84.88 438.33,93.08 438.64,99.88 438.96,105.96 439.28,111.78 439.60,117.32 439.91,109.09 440.23,99.12 440.55,93.36 440.87,88.38 441.18,83.43 441.50,76.82 441.82,67.93 442.14,57.28 442.45,43.45 442.78,60.32 443.10,73.72 443.42,84.50 443.75,93.29 444.07,100.57 444.40,106.71 444.72,111.98 445.04,116.60 445.37,120.73 445.68,109.57 445.99,99.55 446.30,91.05 446.61,83.27 446.92,75.85 447.23,68.79 447.55,61.95 447.86,55.93 448.17,50.63 448.49,57.22 448.80,66.47 449.12,76.36 449.44,85.20 449.76,93.31 450.07,100.03 450.39,106.05 450.71,111.80 451.03,117.28 451.34,109.19 451.66,99.39 451.98,93.72 452.30,88.83 452.61,83.96 452.93,77.46 453.25,68.72 453.57,58.25 453.88,44.65 454.21,61.30 454.53,74.53 454.86,85.17 455.18,93.84 455.50,101.03 455.83,107.09 456.15,112.30 456.48,116.86 456.80,120.93 457.11,109.52 457.42,99.27 457.73,90.57 458.04,82.62 458.36,75.03 458.67,67.80 458.98,60.81 459.29,54.65 459.60,49.23 459.92,55.91 460.24,65.28 460.55,75.30 460.87,84.25 461.19,92.47 461.51,99.28 461.83,105.37 462.14,111.20 462.46,116.75 462.78,108.76 463.10,99.09 463.41,93.50 463.73,88.66 464.05,83.86 464.37,77.44 464.68,68.81 465.00,58.47 465.32,45.05 465.64,61.32 465.97,74.25 466.29,84.65 466.62,93.12 466.94,100.15 467.27,106.07 467.59,111.16 467.91,115.62 468.24,119.60 468.55,108.32 468.86,98.18 469.17,89.59 469.48,81.73 469.80,74.23 470.11,67.08 470.42,60.17 470.73,54.09 471.04,48.73 471.36,55.37 471.68,64.68 472.00,74.64 472.31,83.53 472.63,91.70 472.95,98.47 473.27,104.52 473.59,110.31 473.90,115.83 474.22,107.90 474.54,98.30 474.86,92.74 475.17,87.95 475.49,83.18 475.81,76.81 476.13,68.24 476.45,57.97 476.76,44.65 477.09,60.86 477.41,73.73 477.74,84.09 478.06,92.53 478.39,99.52 478.71,105.42 479.04,110.49 479.36,114.93 479.68,118.89 480.00,108.11 480.31,98.42 480.62,90.20 480.93,82.68 481.24,75.51 481.55,68.68 481.87,62.07 482.18,56.25 482.49,51.13 482.81,57.59 483.13,66.65 483.44,76.35 483.76,85.01 484.08,92.96 484.40,99.55 484.72,105.45 485.03,111.08 485.35,116.46 485.67,108.38 485.99,98.59 486.31,92.94 486.62,88.05 486.94,83.20 487.26,76.70 487.58,67.98 487.90,57.52 488.21,43.95 488.54,60.36 488.86,73.40 489.19,83.89 489.51,92.43 489.84,99.52 490.16,105.49 490.49,110.63 490.81,115.12 491.14,119.13 491.45,108.39 491.76,98.74 492.07,90.55 492.38,83.06 492.70,75.92 493.01,69.11 493.32,62.53 493.63,56.73 493.94,51.63 494.26,57.94 494.58,66.80 494.90,76.28 495.22,84.74 495.54,92.50 495.85,98.95 496.17,104.71 496.49,110.21 496.81,115.47 497.13,107.36 497.44,97.55 497.76,91.88 498.08,86.98 498.40,82.11 498.72,75.60 499.04,66.84 499.35,56.36 499.67,42.75 500.00,59.51 500.32,72.83 500.65,83.54 500.97,92.28 501.30,99.51 501.62,105.61 501.95,110.86 502.27,115.45 502.60,119.55 502.91,108.21 503.22,98.03 503.53,89.39 503.84,81.49 504.16,73.96 504.47,66.78 504.78,59.83 505.09,53.71 505.41,48.33 505.72,55.00 506.04,64.36 506.36,74.38 506.68,83.31 507.00,91.52 507.32,98.33 507.63,104.42 507.95,110.24 508.27,115.79 508.59,107.55 508.91,97.57 509.23,91.80 509.55,86.82 509.86,81.87 510.18,75.25 510.50,66.35 510.82,55.69 511.14,41.85 511.46,58.76 511.79,72.20 512.11,83.00 512.44,91.81 512.76,99.11 513.09,105.27 513.41,110.56 513.74,115.19 514.06,119.32 514.38,108.17 514.69,98.14 515.00,89.64 515.31,81.87 515.62,74.45 515.94,67.38 516.25,60.55 516.56,54.53 516.87,49.23 517.19,55.87 517.51,65.17 517.83,75.13 518.15,84.02 518.47,92.19 518.79,98.96 519.10,105.01 519.42,110.80 519.74,116.32 520.06,108.33 520.38,98.66 520.70,93.07 521.02,88.24 521.33,83.44 521.65,77.03 521.97,68.40 522.29,58.06 522.61,44.65 524.30,82.10" stroke="#ff7f0e" stroke-width="1.6"/>
<polyline points="54.50,128.68 54.88,119.17 55.26,109.66 55.64,100.15 56.02,90.63 56.41,81.12 56.79,71.61 57.17,62.10 57.55,52.58 57.93,43.07 58.25,60.20 58.56,73.81 58.88,84.76 59.20,93.68 59.52,101.08 59.83,107.31 60.15,112.67 60.47,117.36 60.78,121.55 61.09,110.92 61.39,101.37 61.70,93.26 62.00,85.86 62.31,78.79 62.61,72.05 62.92,65.54 63.22,59.80 63.53,54.75 63.84,60.59 64.15,68.79 64.46,77.55 64.77,85.37 65.08,92.56 65.39,98.52 65.70,103.85 66.02,108.94 66.33,113.80 66.64,105.91 66.95,96.35 67.26,90.82 67.57,86.05 67.88,81.31 68.19,74.97 68.50,66.44 68.81,56.23 69.13,42.97 69.44,60.01 69.76,73.56 70.08,84.44 70.40,93.32 70.71,100.68 71.03,106.88 71.35,112.21 71.66,116.88 71.98,121.05 72.29,110.49 72.59,101.01 72.90,92.97 73.20,85.62 73.51,78.61 73.81,71.92 74.12,65.46 74.42,59.76 74.73,54.75 75.04,60.61 75.35,68.81 75.66,77.60 75.97,85.44 76.28,92.64 76.59,98.61 76.91,103.95 77.22,109.05 77.53,113.92 77.84,106.26 78.15,96.98 78.46,91.62 78.77,86.99 79.08,82.38 79.39,76.23 79.71,67.95 80.02,58.04 80.33,45.17 80.65,61.78 80.96,74.97 81.28,85.58 81.60,94.23 81.92,101.40 82.23,107.44 82.55,112.63 82.87,117.18 83.19,121.24 83.49,110.66 83.80,101.15 84.10,93.09 84.41,85.71 84.71,78.68 85.02,71.97 85.32,65.49 85.63,59.78 85.93,54.75 86.24,60.58 86.56,68.75 86.87,77.50 87.18,85.30 87.49,92.47 87.80,98.42 88.11,103.73 88.42,108.81 88.74,113.66 89.05,106.03 89.36,96.79 89.67,91.44 89.98,86.83 90.29,82.24 90.60,76.11 90.91,67.87 91.23,57.99 91.54,45.17 91.86,61.98 92.17,75.33 92.49,86.06 92.81,94.81 93.13,102.07 93.44,108.18 93.76,113.44 94.08,118.04 94.40,122.15 94.70,111.53 95.01,101.99 95.31,93.91 95.62,86.51 95.92,79.45 96.23,72.73 96.54,66.22 96.84,60.49 97.15,55.45 97.46,61.22 97.77,69.31 98.08,77.97 98.39,85.69 98.70,92.79 99.02,98.67 99.33,103.93 99.64,108.96 99.95,113.76 100.26,106.21 100.57,97.06 100.88,91.77 101.20,87.21 101.51,82.66 101.82,76.60 102.13,68.43 102.44,58.66 102.75,45.97 103.07,62.64 103.39,75.89 103.71,86.54 104.03,95.23 104.34,102.42 104.66,108.49 104.98,113.70 105.30,118.27 105.62,122.35 105.92,111.70 106.23,102.13 106.53,94.02 106.84,86.60 107.14,79.52 107.45,72.78 107.75,66.25 108.06,60.51 108.37,55.45 108.68,61.26 108.99,69.41 109.30,78.13 109.61,85.92 109.92,93.07 110.24,98.99 110.55,104.29 110.86,109.36 111.17,114.19 111.48,106.64 111.79,97.49 112.11,92.20 112.42,87.63 112.73,83.08 113.04,77.01 113.35,68.85 113.67,59.07 113.98,46.37 114.30,62.98 114.61,76.18 114.93,86.79 115.25,95.45 115.57,102.61 115.89,108.66 116.20,113.86 116.52,118.41 116.84,122.47 117.15,111.80 117.45,102.22 117.76,94.09 118.06,86.66 118.37,79.57 118.68,72.81 118.98,66.27 119.29,60.52 119.59,55.45 119.90,61.35 120.22,69.62 120.53,78.46 120.84,86.36 121.15,93.61 121.46,99.62 121.78,105.00 122.09,110.14 122.40,115.04 122.71,107.35 123.02,98.03 123.34,92.64 123.65,87.99 123.96,83.36 124.27,77.18 124.58,68.86 124.90,58.90 125.21,45.97 125.53,62.59 125.84,75.79 126.16,86.40 126.48,95.06 126.80,102.23 127.12,108.28 127.44,113.47 127.75,118.03 128.07,122.09 128.38,111.48 128.68,101.95 128.99,93.87 129.30,86.48 129.60,79.43 129.91,72.71 130.21,66.21 130.52,60.49 130.83,55.45 131.14,61.27 131.45,69.42 131.76,78.15 132.07,85.94 132.39,93.09 132.70,99.02 133.01,104.32 133.32,109.40 133.64,114.23 133.95,106.67 134.26,97.51 134.57,92.22 134.88,87.65 135.20,83.10 135.51,77.03 135.82,68.86 136.13,59.07 136.44,46.37 136.76,63.04 137.08,76.28 137.40,86.93 137.72,95.61 138.04,102.80 138.36,108.87 138.67,114.08 138.99,118.65 139.31,122.72 139.62,112.01 139.92,102.40 140.23,94.24 140.54,86.78 140.84,79.66 141.15,72.88 141.45,66.32 141.76,60.54 142.07,55.45 142.38,61.39 142.69,69.72 143.00,78.63 143.32,86.59 143.63,93.89 143.94,99.95 144.25,105.37 144.57,110.54 144.88,115.48 145.19,107.77 145.50,98.43 145.81,93.03 146.13,88.37 146.44,83.73 146.75,77.54 147.06,69.21 147.38,59.23 147.69,46.27 148.01,62.83 148.33,75.98 148.64,86.56 148.96,95.18 149.28,102.33 149.60,108.35 149.92,113.53 150.24,118.07 150.56,122.11 150.86,111.54 151.17,102.03 151.48,93.97 151.78,86.60 152.09,79.57 152.39,72.87 152.70,66.38 153.01,60.68 153.31,55.66 153.63,61.49 153.94,69.68 154.25,78.45 154.56,86.27 154.88,93.45 155.19,99.41 155.50,104.74 155.81,109.83 156.13,114.69 156.44,107.02 156.75,97.73 157.06,92.37 157.38,87.73 157.69,83.12 158.00,76.96 158.31,68.68 158.63,58.75 158.94,45.87 159.26,62.57 159.58,75.83 159.90,86.50 160.22,95.20 160.53,102.41 160.85,108.48 161.17,113.71 161.49,118.28 161.81,122.36 162.12,111.66 162.42,102.05 162.73,93.90 163.04,86.45 163.34,79.34 163.65,72.56 163.96,66.01 164.26,60.23 164.57,55.16 164.88,61.16 165.19,69.58 165.51,78.59 165.82,86.64 166.13,94.02 166.44,100.15 166.76,105.63 167.07,110.87 167.38,115.86 167.70,108.14 168.01,98.79 168.32,93.39 168.63,88.72 168.95,84.08 169.26,77.87 169.57,69.53 169.88,59.54 170.20,46.57 170.52,63.02 170.84,76.09 171.15,86.59 171.47,95.16 171.79,102.26 172.11,108.25 172.43,113.39 172.75,117.89 173.07,121.92 173.38,111.34 173.68,101.83 173.99,93.77 174.30,86.40 174.60,79.37 174.91,72.67 175.22,66.19 175.52,60.48 175.83,55.45 176.14,61.51 176.46,70.01 176.77,79.11 177.08,87.23 177.39,94.68 177.71,100.87 178.02,106.40 178.33,111.68 178.65,116.72 178.96,108.96 179.27,99.56 179.58,94.13 179.90,89.44 180.21,84.77 180.52,78.54 180.84,70.15 181.15,60.11 181.46,47.07 181.78,63.49 182.10,76.53 182.42,87.01 182.74,95.56 183.06,102.65 183.38,108.62 183.70,113.76 184.02,118.25 184.34,122.27 184.64,111.63 184.95,102.08 185.26,93.97 185.56,86.56 185.87,79.50 186.18,72.76 186.48,66.24 186.79,60.50 187.10,55.45 187.41,61.51 187.72,70.00 188.04,79.09 188.35,87.20 188.66,94.65 188.98,100.83 189.29,106.35 189.60,111.63 189.92,116.67 190.23,108.97 190.54,99.65 190.85,94.26 191.17,89.60 191.48,84.97 191.79,78.79 192.11,70.47 192.42,60.51 192.73,47.57 193.05,64.15 193.37,77.33 193.69,87.92 194.01,96.56 194.33,103.72 194.65,109.75 194.97,114.94 195.29,119.48 195.61,123.54 195.92,112.62 196.22,102.81 196.53,94.49 196.84,86.89 197.14,79.63 197.45,72.72 197.76,66.03 198.07,60.14 198.37,54.96 198.69,61.12 199.00,69.76 199.31,79.01 199.63,87.26 199.94,94.85 200.25,101.13 200.57,106.76 200.88,112.13 201.19,117.26 201.51,109.49 201.82,100.09 202.13,94.65 202.45,89.96 202.76,85.29 203.07,79.05 203.39,70.66 203.70,60.62 204.01,47.57 204.33,64.13 204.65,77.28 204.97,87.86 205.29,96.48 205.61,103.63 205.93,109.66 206.25,114.83 206.57,119.37 206.89,123.42 207.20,112.65 207.50,102.97 207.81,94.76 208.12,87.26 208.43,80.10 208.73,73.28 209.04,66.68 209.35,60.87 209.65,55.75 209.97,61.75 210.28,70.16 210.59,79.16 210.91,87.19 211.22,94.57 211.54,100.69 211.85,106.16 212.16,111.39 212.48,116.38 212.79,108.79 213.10,99.60 213.42,94.29 213.73,89.70 214.04,85.14 214.36,79.04 214.67,70.84 214.98,61.02 215.30,48.27 215.62,64.71 215.94,77.77 216.26,88.27 216.58,96.83 216.90,103.92 217.22,109.90 217.54,115.04 217.86,119.55 218.18,123.56 218.48,112.77 218.79,103.07 219.10,94.85 219.41,87.33 219.71,80.15 220.02,73.32 220.33,66.70 220.64,60.88 220.94,55.75 221.26,61.80 221.57,70.28 221.88,79.35 222.20,87.45 222.51,94.89 222.83,101.06 223.14,106.57 223.45,111.84 223.77,116.87 224.08,109.23 224.39,99.97 224.71,94.62 225.02,90.00 225.33,85.40 225.65,79.26 225.96,71.00 226.28,61.11 226.59,48.27 226.91,64.54 227.23,77.47 227.55,87.86 227.87,96.34 228.19,103.36 228.51,109.28 228.83,114.37 229.15,118.83 229.47,122.81 229.78,112.09 230.09,102.45 230.39,94.28 230.70,86.81 231.01,79.69 231.32,72.90 231.62,66.33 231.93,60.54 232.24,55.45 232.55,61.57 232.87,70.16 233.18,79.34 233.49,87.54 233.81,95.07 234.12,101.32 234.44,106.90 234.75,112.24 235.06,117.33 235.38,109.55 235.69,100.14 236.01,94.70 236.32,90.00 236.63,85.33 236.95,79.08 237.26,70.69 237.57,60.63 237.89,47.57 238.21,64.01 238.53,77.08 238.85,87.58 239.17,96.15 239.49,103.24 239.81,109.23 240.13,114.37 240.45,118.88 240.77,122.90 241.08,112.16 241.39,102.52 241.69,94.34 242.00,86.86 242.31,79.72 242.62,72.92 242.93,66.34 243.23,60.55 243.54,55.45 243.86,61.63 244.17,70.30 244.48,79.58 244.80,87.86 245.11,95.46 245.43,101.77 245.74,107.41 246.05,112.80 246.37,117.94 246.68,110.25 247.00,100.95 247.31,95.57 247.62,90.92 247.94,86.30 248.25,80.13 248.57,71.82 248.88,61.88 249.19,48.97 249.51,65.26 249.84,78.20 250.16,88.61 250.48,97.10 250.80,104.13 251.12,110.06 251.44,115.15 251.76,119.62 252.08,123.60 252.39,112.80 252.70,103.10 253.00,94.87 253.31,87.34 253.62,80.17 253.93,73.33 254.23,66.71 254.54,60.88 254.85,55.75 255.17,61.90 255.48,70.51 255.79,79.73 256.11,87.96 256.42,95.51 256.74,101.78 257.05,107.38 257.36,112.74 257.68,117.85 257.99,109.83 258.31,100.12 258.62,94.50 258.94,89.65 259.25,84.83 259.56,78.39 259.88,69.72 260.19,59.35 260.51,45.87 260.83,62.62 261.15,75.92 261.47,86.62 261.79,95.35 262.11,102.58 262.43,108.67 262.75,113.91 263.07,118.50 263.39,122.59 263.70,111.60 264.01,101.73 264.32,93.36 264.63,85.70 264.93,78.40 265.24,71.43 265.55,64.70 265.86,58.77 266.17,53.55 266.48,59.89 266.80,68.78 267.11,78.30 267.42,86.79 267.74,94.59 268.05,101.06 268.37,106.84 268.68,112.37 269.00,117.64 269.31,109.83 269.63,100.38 269.94,94.91 270.25,90.19 270.57,85.50 270.88,79.23 271.20,70.79 271.51,60.69 271.83,47.57 272.15,64.06 272.47,77.16 272.79,87.69 273.11,96.28 273.43,103.40 273.75,109.40 274.07,114.56 274.39,119.07 274.72,123.10 275.02,111.86 275.33,101.76 275.64,93.19 275.95,85.35 276.26,77.88 276.57,70.75 276.87,63.86 277.18,57.79 277.49,52.46 277.81,58.89 278.12,67.92 278.43,77.58 278.75,86.20 279.06,94.12 279.38,100.69 279.69,106.56 280.01,112.18 280.32,117.53 280.64,109.55 280.95,99.88 281.27,94.29 281.58,89.46 281.90,84.66 282.21,78.24 282.52,69.62 282.84,59.29 283.15,45.87 283.47,62.67 283.80,76.02 284.12,86.75 284.44,95.51 284.76,102.76 285.08,108.87 285.40,114.13 285.72,118.73 286.04,122.84 286.35,111.75 286.66,101.78 286.97,93.33 287.28,85.60 287.59,78.23 287.90,71.20 288.20,64.41 288.51,58.42 288.82,53.15 289.14,59.58 289.45,68.59 289.77,78.23 290.08,86.84 290.39,94.74 290.71,101.30 291.02,107.16 291.34,112.76 291.65,118.10 291.97,110.14 292.28,100.48 292.60,94.90 292.91,90.08 293.23,85.29 293.54,78.89 293.86,70.28 294.17,59.96 294.49,46.57 294.81,63.09 295.13,76.22 295.45,86.78 295.77,95.38 296.09,102.52 296.42,108.53 296.74,113.70 297.06,118.22 297.38,122.26 297.69,111.15 298.00,101.17 298.31,92.70 298.61,84.96 298.92,77.57 299.23,70.53 299.54,63.73 299.85,57.73 300.16,52.46 300.47,58.90 300.79,67.94 301.10,77.62 301.42,86.25 301.73,94.18 302.05,100.76 302.36,106.64 302.68,112.26 302.99,117.62 303.31,109.90 303.62,100.54 303.94,95.13 304.25,90.46 304.57,85.81 304.88,79.60 305.20,71.25 305.51,61.25 305.83,48.27 306.15,64.60 306.47,77.57 306.79,88.00 307.11,96.50 307.44,103.55 307.76,109.49 308.08,114.60 308.40,119.07 308.72,123.06 309.03,112.19 309.34,102.42 309.65,94.13 309.96,86.56 310.27,79.33 310.58,72.44 310.88,65.78 311.19,59.92 311.50,54.75 311.82,61.00 312.13,69.77 312.45,79.15 312.76,87.53 313.08,95.22 313.39,101.60 313.71,107.30 314.02,112.75 314.34,117.95 314.65,110.11 314.97,100.61 315.28,95.12 315.60,90.38 315.91,85.67 316.23,79.37 316.55,70.89 316.86,60.75 317.18,47.57 317.50,63.95 317.82,76.95 318.14,87.41 318.46,95.94 318.78,103.01 319.11,108.97 319.43,114.09 319.75,118.58 320.07,122.58 320.38,111.78 320.69,102.09 321.00,93.86 321.31,86.34 321.62,79.16 321.93,72.32 322.23,65.71 322.54,59.88 322.85,54.75 323.17,60.97 323.48,69.70 323.80,79.03 324.11,87.36 324.43,95.01 324.75,101.36 325.06,107.03 325.38,112.46 325.69,117.63 326.01,109.64 326.32,99.95 326.64,94.36 326.95,89.52 327.27,84.71 327.58,78.29 327.90,69.65 328.21,59.30 328.53,45.87 328.85,62.54 329.17,75.78 329.50,86.43 329.82,95.11 330.14,102.31 330.46,108.37 330.78,113.58 331.11,118.15 331.43,122.23 331.74,111.48 332.05,101.84 332.35,93.65 332.66,86.17 332.97,79.03 333.28,72.23 333.59,65.65 333.90,59.85 334.21,54.75 334.53,61.08 334.84,69.95 335.16,79.44 335.47,87.91 335.79,95.69 336.10,102.14 336.42,107.91 336.74,113.42 337.05,118.68 337.37,110.49 337.68,100.57 338.00,94.84 338.31,89.89 338.63,84.96 338.94,78.38 339.26,69.53 339.58,58.93 339.89,45.17 340.21,61.90 340.54,75.19 340.86,85.87 341.18,94.59 341.50,101.81 341.82,107.90 342.15,113.13 342.47,117.71 342.79,121.80 343.10,110.76 343.41,100.84 343.72,92.43 344.03,84.74 344.34,77.41 344.65,70.41 344.96,63.65 345.27,57.69 345.58,52.46 345.89,59.04 346.21,68.29 346.52,78.18 346.84,87.01 347.15,95.12 347.47,101.85 347.79,107.86 348.10,113.61 348.42,119.09 348.73,110.93 349.05,101.05 349.36,95.34 349.68,90.41 350.00,85.50 350.31,78.95 350.63,70.13 350.94,59.58 351.26,45.87 351.58,62.63 351.90,75.94 352.23,86.64 352.55,95.37 352.87,102.60 353.19,108.70 353.52,113.94 353.84,118.53 354.16,122.63 354.47,111.57 354.78,101.63 355.09,93.21 355.40,85.50 355.71,78.15 356.02,71.15 356.33,64.37 356.64,58.40 356.95,53.15 357.26,59.59 357.58,68.62 357.89,78.29 358.21,86.91 358.53,94.84 358.84,101.41 359.16,107.28 359.47,112.90 359.79,118.25 360.11,110.23 360.42,100.52 360.74,94.91 361.05,90.06 361.37,85.23 361.69,78.79 362.00,70.12 362.32,59.75 362.63,46.27 362.96,63.02 363.28,76.33 363.60,87.03 363.92,95.75 364.25,102.98 364.57,109.07 364.89,114.31 365.21,118.90 365.54,123.00 365.85,111.77 366.16,101.68 366.47,93.12 366.78,85.30 367.09,77.84 367.40,70.72 367.71,63.84 368.02,57.79 368.33,52.46 368.64,59.02 368.96,68.22 369.27,78.08 369.59,86.87 369.91,94.94 370.22,101.64 370.54,107.63 370.85,113.36 371.17,118.81 371.49,110.69 371.80,100.84 372.12,95.16 372.44,90.24 372.75,85.35 373.07,78.82 373.38,70.04 373.70,59.53 374.02,45.87 374.34,62.74 374.66,76.14 374.98,86.91 375.31,95.69 375.63,102.97 375.95,109.11 376.27,114.39 376.60,119.01 376.92,123.13 377.23,111.77 377.54,101.56 377.85,92.90 378.16,84.99 378.47,77.44 378.78,70.24 379.09,63.28 379.40,57.15 379.71,51.75 380.03,58.37 380.34,67.66 380.66,77.60 380.98,86.46 381.29,94.61 381.61,101.36 381.93,107.40 382.24,113.18 382.56,118.68 382.87,110.65 383.19,100.92 383.51,95.30 383.82,90.44 384.14,85.61 384.46,79.15 384.77,70.47 385.09,60.07 385.40,46.57 385.73,63.03 386.05,76.11 386.37,86.62 386.70,95.20 387.02,102.30 387.34,108.29 387.67,113.44 387.99,117.95 388.31,121.97 388.62,110.86 388.93,100.87 389.24,92.41 389.55,84.66 389.86,77.28 390.17,70.24 390.48,63.43 390.79,57.43 391.10,52.15 391.42,58.76 391.74,68.03 392.05,77.96 392.37,86.81 392.69,94.94 393.00,101.69 393.32,107.72 393.64,113.48 393.95,118.98 394.27,110.97 394.58,101.26 394.90,95.66 395.22,90.81 395.53,85.99 395.85,79.56 396.17,70.90 396.48,60.53 396.80,47.07 397.12,63.38 397.45,76.33 397.77,86.74 398.09,95.24 398.42,102.27 398.74,108.21 399.06,113.31 399.39,117.77 399.71,121.76 400.02,110.84 400.33,101.03 400.64,92.71 400.95,85.10 401.26,77.84 401.57,70.92 401.88,64.23 402.19,58.34 402.50,53.15 402.82,59.72 403.14,68.93 403.45,78.78 403.77,87.57 404.09,95.65 404.40,102.35 404.72,108.34 405.04,114.07 405.35,119.53 405.67,111.45 405.99,101.68 406.30,96.03 406.62,91.14 406.94,86.29 407.25,79.80 407.57,71.08 407.89,60.64 408.20,47.07 408.53,63.43 408.85,76.42 409.17,86.87 409.50,95.39 409.82,102.45 410.14,108.40 410.47,113.52 410.79,118.00 411.11,122.00 411.42,111.10 411.73,101.32 412.04,93.01 412.36,85.42 412.67,78.18 412.98,71.28 413.29,64.60 413.60,58.73 413.91,53.55 414.23,60.05 414.54,69.16 414.86,78.92 415.18,87.62 415.49,95.61 415.81,102.24 416.13,108.17 416.44,113.84 416.76,119.24 417.08,110.81 417.39,100.60 417.71,94.70 418.03,89.60 418.35,84.53 418.66,77.76 418.98,68.65 419.30,57.74 419.61,43.57 419.94,60.70 420.26,74.31 420.58,85.26 420.91,94.18 421.23,101.57 421.55,107.81 421.88,113.17 422.20,117.86 422.52,122.05 422.83,110.70 423.15,100.50 423.46,91.86 423.77,83.95 424.08,76.41 424.39,69.22 424.70,62.27 425.01,56.14 425.32,50.75 425.64,57.52 425.96,67.01 426.27,77.17 426.59,86.23 426.91,94.55 427.22,101.46 427.54,107.63 427.86,113.53 428.18,119.16 428.49,110.92 428.81,100.93 429.13,95.16 429.44,90.18 429.76,85.22 430.08,78.60 430.40,69.69 430.71,59.02 431.03,45.17 431.35,61.77 431.68,74.96 432.00,85.56 432.32,94.21 432.65,101.38 432.97,107.42 433.29,112.61 433.62,117.16 433.94,121.21 434.25,109.89 434.56,99.71 434.88,91.08 435.19,83.19 435.50,75.66 435.81,68.48 436.12,61.54 436.43,55.43 436.74,50.06 437.06,56.77 437.38,66.19 437.69,76.26 438.01,85.26 438.33,93.52 438.64,100.37 438.96,106.50 439.28,112.35 439.60,117.94 439.91,109.65 440.23,99.62 440.55,93.82 440.87,88.81 441.18,83.82 441.50,77.17 441.82,68.21 442.14,57.49 442.45,43.57 442.78,60.55 443.10,74.04 443.42,84.88 443.75,93.73 444.07,101.06 444.40,107.24 444.72,112.54 445.04,117.20 445.37,121.35 445.68,110.11 445.99,100.02 446.30,91.45 446.61,83.62 446.92,76.16 447.23,69.04 447.55,62.15 447.86,56.09 448.17,50.75 448.49,57.39 448.80,66.71 449.12,76.68 449.44,85.58 449.76,93.75 450.07,100.52 450.39,106.58 450.71,112.38 451.03,117.90 451.34,109.75 451.66,99.88 451.98,94.18 452.30,89.25 452.61,84.35 452.93,77.81 453.25,69.00 453.57,58.46 453.88,44.77 454.21,61.53 454.53,74.85 454.86,85.56 455.18,94.29 455.50,101.52 455.83,107.62 456.15,112.86 456.48,117.45 456.80,121.55 457.11,110.06 457.42,99.74 457.73,90.98 458.04,82.97 458.36,75.33 458.67,68.05 458.98,61.01 459.29,54.81 459.60,49.35 459.92,56.08 460.24,65.52 460.55,75.62 460.87,84.63 461.19,92.91 461.51,99.77 461.83,105.91 462.14,111.78 462.46,117.37 462.78,109.33 463.10,99.58 463.41,93.95 463.73,89.09 464.05,84.25 464.37,77.79 464.68,69.10 465.00,58.69 465.32,45.17 465.64,61.55 465.97,74.57 466.29,85.03 466.62,93.57 466.94,100.64 467.27,106.60 467.59,111.72 467.91,116.21 468.24,120.21 468.55,108.85 468.86,98.65 469.17,90.00 469.48,82.08 469.80,74.53 470.11,67.34 470.42,60.38 470.73,54.25 471.04,48.85 471.36,55.54 471.68,64.92 472.00,74.95 472.31,83.91 472.63,92.14 472.95,98.96 473.27,105.06 473.59,110.89 473.90,116.45 474.22,108.46 474.54,98.79 474.86,93.20 475.17,88.37 475.49,83.57 475.81,77.15 476.13,68.52 476.45,58.19 476.76,44.77 477.09,61.09 477.41,74.05 477.74,84.47 478.06,92.97 478.39,100.01 478.71,105.95 479.04,111.05 479.36,115.52 479.68,119.51 480.00,108.65 480.31,98.89 480.62,90.61 480.93,83.04 481.24,75.81 481.55,68.93 481.87,62.28 482.18,56.41 482.49,51.25 482.81,57.76 483.13,66.90 483.44,76.67 483.76,85.39 484.08,93.40 484.40,100.04 484.72,105.98 485.03,111.66 485.35,117.07 485.67,108.94 485.99,99.09 486.31,93.39 486.62,88.48 486.94,83.59 487.26,77.05 487.58,68.26 487.90,57.74 488.21,44.07 488.54,60.59 488.86,73.72 489.19,84.27 489.51,92.88 489.84,100.01 490.16,106.02 490.49,111.19 490.81,115.71 491.14,119.75 491.45,108.93 491.76,99.20 492.07,90.96 492.38,83.41 492.70,76.22 493.01,69.36 493.32,62.73 493.63,56.89 493.94,51.75 494.26,58.12 494.58,67.04 494.90,76.59 495.22,85.12 495.54,92.94 495.85,99.44 496.17,105.24 496.49,110.79 496.81,116.08 497.13,107.93 497.44,98.05 497.76,92.34 498.08,87.40 498.40,82.50 498.72,75.95 499.04,67.13 499.35,56.58 499.67,42.87 500.00,59.74 500.32,73.15 500.65,83.93 500.97,92.72 501.30,100.00 501.62,106.14 501.95,111.42 502.27,116.04 502.60,120.16 502.91,108.75 503.22,98.50 503.53,89.80 503.84,81.84 504.16,74.26 504.47,67.03 504.78,60.03 505.09,53.87 505.41,48.45 505.72,55.17 506.04,64.60 506.36,74.69 506.68,83.69 507.00,91.96 507.32,98.82 507.63,104.95 507.95,110.81 508.27,116.40 508.59,108.11 508.91,98.07 509.23,92.26 509.55,87.25 509.86,82.26 510.18,75.60 510.50,66.64 510.82,55.90 511.14,41.97 511.46,58.99 511.79,72.51 512.11,83.39 512.44,92.25 512.76,99.60 513.09,105.79 513.41,111.12 513.74,115.78 514.06,119.94 514.38,108.70 514.69,98.61 515.00,90.05 515.31,82.22 515.62,74.75 515.94,67.64 516.25,60.75 516.56,54.69 516.87,49.35 517.19,56.04 517.51,65.41 517.83,75.45 518.15,84.40 518.47,92.63 518.79,99.45 519.10,105.54 519.42,111.37 519.74,116.93 520.06,108.89 520.38,99.16 520.70,93.53 521.02,88.67 521.33,83.83 521.65,77.37 521.97,68.68 522.29,58.28 522.61,44.77 524.40,82.72" stroke="#0c9c10" stroke-width="1.6"/>
<polyline points="54.50,122.82 54.88,112.86 55.26,102.91 55.64,92.95 56.02,82.99 56.41,73.03 56.79,63.07 57.17,53.12 57.55,43.16 57.93,33.20 58.25,51.34 58.56,65.75 58.88,77.34 59.20,86.79 59.52,94.62 59.83,101.23 60.15,106.90 60.47,111.87 60.78,116.31 61.09,105.04 61.39,94.91 61.70,86.32 62.00,78.47 62.31,70.98 62.61,63.84 62.92,56.93 63.22,50.85 63.53,45.50 63.84,51.74 64.15,60.48 64.46,69.84 64.77,78.20 65.08,85.87 65.39,92.24 65.70,97.93 66.02,103.37 66.33,108.55 66.64,100.15 66.95,89.96 67.26,84.08 67.57,79.00 67.88,73.94 68.19,67.19 68.50,58.10 68.81,47.22 69.13,33.10 69.44,51.15 69.76,65.50 70.08,77.03 70.40,86.43 70.71,94.23 71.03,100.80 71.35,106.44 71.66,111.39 71.98,115.80 72.29,104.61 72.59,94.56 72.90,86.03 73.20,78.23 73.51,70.80 73.81,63.71 74.12,56.85 74.42,50.81 74.73,45.50 75.04,51.75 75.35,60.51 75.66,69.89 75.97,78.26 76.28,85.95 76.59,92.33 76.91,98.03 77.22,103.48 77.53,108.67 77.84,100.50 78.15,90.60 78.46,84.87 78.77,79.93 79.08,75.02 79.39,68.45 79.71,59.61 80.02,49.04 80.33,35.30 80.65,52.92 80.96,66.91 81.28,78.16 81.60,87.34 81.92,94.94 82.23,101.36 82.55,106.86 82.87,111.69 83.19,116.00 83.49,104.78 83.80,94.69 84.10,86.14 84.41,78.32 84.71,70.87 85.02,63.76 85.32,56.88 85.63,50.83 85.93,45.50 86.24,51.72 86.56,60.45 86.87,69.79 87.18,78.13 87.49,85.78 87.80,92.13 88.11,97.81 88.42,103.24 88.74,108.41 89.05,100.27 89.36,90.40 89.67,84.70 89.98,79.77 90.29,74.87 90.60,68.33 90.91,59.53 91.23,48.99 91.54,35.30 91.86,53.11 92.17,67.27 92.49,78.65 92.81,87.93 93.13,95.61 93.44,102.10 93.76,107.67 94.08,112.55 94.40,116.90 94.70,105.65 95.01,95.54 95.31,86.96 95.62,79.12 95.92,71.64 96.23,64.51 96.54,57.62 96.84,51.54 97.15,46.20 97.46,52.36 97.77,61.01 98.08,70.26 98.39,78.52 98.70,86.10 99.02,92.39 99.33,98.01 99.64,103.39 99.95,108.52 100.26,100.45 100.57,90.68 100.88,85.03 101.20,80.15 101.51,75.30 101.82,68.82 102.13,60.10 102.44,49.66 102.75,36.10 103.07,53.78 103.39,67.83 103.71,79.13 104.03,88.34 104.34,95.97 104.66,102.41 104.98,107.94 105.30,112.78 105.62,117.10 105.92,105.82 106.23,95.68 106.53,87.08 106.84,79.21 107.14,71.71 107.45,64.56 107.75,57.65 108.06,51.56 108.37,46.20 108.68,52.41 108.99,61.11 109.30,70.43 109.61,78.74 109.92,86.38 110.24,92.71 110.55,98.37 110.86,103.79 111.17,108.95 111.48,100.88 111.79,91.10 112.11,85.45 112.42,80.57 112.73,75.72 113.04,69.23 113.35,60.51 113.67,50.06 113.98,36.50 114.30,54.12 114.61,68.12 114.93,79.38 115.25,88.56 115.57,96.16 115.89,102.58 116.20,108.09 116.52,112.91 116.84,117.22 117.15,105.92 117.45,95.76 117.76,87.15 118.06,79.27 118.37,71.76 118.68,64.59 118.98,57.67 119.29,51.57 119.59,46.20 119.90,52.49 120.22,61.31 120.53,70.76 120.84,79.18 121.15,86.92 121.46,93.34 121.78,99.08 122.09,104.57 122.40,109.80 122.71,101.59 123.02,91.64 123.34,85.90 123.65,80.93 123.96,75.99 124.27,69.40 124.58,60.52 124.90,49.90 125.21,36.10 125.53,53.73 125.84,67.73 126.16,78.99 126.48,88.17 126.80,95.78 127.12,102.19 127.44,107.71 127.75,112.53 128.07,116.84 128.38,105.60 128.68,95.50 128.99,86.93 129.30,79.09 129.60,71.62 129.91,64.50 130.21,57.61 130.52,51.54 130.83,46.20 131.14,52.41 131.45,61.12 131.76,70.44 132.07,78.76 132.39,86.40 132.70,92.74 133.01,98.40 133.32,103.82 133.64,108.99 133.95,100.91 134.26,91.13 134.57,85.48 134.88,80.59 135.20,75.74 135.51,69.25 135.82,60.52 136.13,50.07 136.44,36.50 136.76,54.18 137.08,68.22 137.40,79.51 137.72,88.72 138.04,96.35 138.36,102.79 138.67,108.31 138.99,113.16 139.31,117.48 139.62,106.13 139.92,95.94 140.23,87.29 140.54,79.39 140.84,71.85 141.15,64.66 141.45,57.71 141.76,51.59 142.07,46.20 142.38,52.53 142.69,61.42 143.00,70.92 143.32,79.41 143.63,87.20 143.94,93.67 144.25,99.45 144.57,104.97 144.88,110.24 145.19,102.01 145.50,92.05 145.81,86.29 146.13,81.31 146.44,76.37 146.75,69.76 147.06,60.87 147.38,50.22 147.69,36.40 148.01,53.97 148.33,67.92 148.64,79.14 148.96,88.29 149.28,95.88 149.60,102.27 149.92,107.76 150.24,112.57 150.56,116.87 150.86,105.65 151.17,95.58 151.48,87.03 151.78,79.21 152.09,71.76 152.39,64.65 152.70,57.78 153.01,51.73 153.31,46.40 153.63,52.63 153.94,61.38 154.25,70.74 154.56,79.09 154.88,86.77 155.19,93.13 155.50,98.82 155.81,104.26 156.13,109.44 156.44,101.26 156.75,91.35 157.06,85.62 157.38,80.67 157.69,75.75 158.00,69.18 158.31,60.34 158.63,49.75 158.94,36.00 159.26,53.71 159.58,67.78 159.90,79.09 160.22,88.31 160.53,95.95 160.85,102.40 161.17,107.94 161.49,112.79 161.81,117.12 162.12,105.78 162.42,95.60 162.73,86.96 163.04,79.06 163.34,71.53 163.65,64.34 163.96,57.40 164.26,51.28 164.57,45.90 164.88,52.30 165.19,61.28 165.51,70.89 165.82,79.46 166.13,87.34 166.44,93.87 166.76,99.71 167.07,105.29 167.38,110.61 167.70,102.38 168.01,92.40 168.32,86.64 168.63,81.66 168.95,76.71 169.26,70.09 169.57,61.19 169.88,50.54 170.20,36.70 170.52,54.16 170.84,68.03 171.15,79.18 171.47,88.27 171.79,95.81 172.11,102.16 172.43,107.62 172.75,112.40 173.07,116.67 173.38,105.45 173.68,95.38 173.99,86.83 174.30,79.01 174.60,71.56 174.91,64.45 175.22,57.58 175.52,51.53 175.83,46.20 176.14,52.66 176.46,61.71 176.77,71.40 177.08,80.05 177.39,88.00 177.71,94.58 178.02,100.47 178.33,106.11 178.65,111.48 178.96,103.20 179.27,93.18 179.58,87.39 179.90,82.38 180.21,77.40 180.52,70.76 180.84,61.81 181.15,51.10 181.46,37.20 181.78,54.62 182.10,68.47 182.42,79.60 182.74,88.68 183.06,96.20 183.38,102.54 183.70,107.99 184.02,112.76 184.34,117.02 184.64,105.75 184.95,95.62 185.26,87.03 185.56,79.18 185.87,71.68 186.18,64.54 186.48,57.63 186.79,51.55 187.10,46.20 187.41,52.65 187.72,61.70 188.04,71.38 188.35,80.02 188.66,87.96 188.98,94.55 189.29,100.43 189.60,106.06 189.92,111.42 190.23,103.21 190.54,93.26 190.85,87.51 191.17,82.54 191.48,77.61 191.79,71.01 192.11,62.13 192.42,51.50 192.73,37.70 193.05,55.29 193.37,69.27 193.69,80.51 194.01,89.67 194.33,97.27 194.65,103.67 194.97,109.17 195.29,113.99 195.61,118.29 195.92,106.74 196.22,96.36 196.53,87.55 196.84,79.50 197.14,71.82 197.45,64.50 197.76,57.42 198.07,51.19 198.37,45.70 198.69,52.26 199.00,61.46 199.31,71.30 199.63,80.09 199.94,88.16 200.25,94.85 200.57,100.84 200.88,106.56 201.19,112.01 201.51,103.73 201.82,93.70 202.13,87.91 202.45,82.90 202.76,77.92 203.07,71.27 203.39,62.32 203.70,51.61 204.01,37.70 204.33,55.27 204.65,69.22 204.97,80.45 205.29,89.60 205.61,97.18 205.93,103.57 206.25,109.07 206.57,113.88 206.89,118.17 207.20,106.76 207.50,96.52 207.81,87.82 208.12,79.87 208.43,72.29 208.73,65.06 209.04,58.07 209.35,51.92 209.65,46.50 209.97,52.89 210.28,61.86 210.59,71.45 210.91,80.02 211.22,87.88 211.54,94.41 211.85,100.24 212.16,105.81 212.48,111.13 212.79,103.03 213.10,93.21 213.42,87.54 213.73,82.64 214.04,77.77 214.36,71.26 214.67,62.50 214.98,52.01 215.30,38.40 215.62,55.85 215.94,69.71 216.26,80.85 216.58,89.94 216.90,97.47 217.22,103.82 217.54,109.27 217.86,114.05 218.18,118.32 218.48,106.89 218.79,96.62 219.10,87.91 219.41,79.94 219.71,72.34 220.02,65.10 220.33,58.10 220.64,51.93 220.94,46.50 221.26,52.94 221.57,61.98 221.88,71.64 222.20,80.27 222.51,88.20 222.83,94.77 223.14,100.65 223.45,106.27 223.77,111.63 224.08,103.47 224.39,93.59 224.71,87.88 225.02,82.94 225.33,78.04 225.65,71.48 225.96,62.66 226.28,52.11 226.59,38.40 226.91,55.68 227.23,69.41 227.55,80.45 227.87,89.45 228.19,96.91 228.51,103.20 228.83,108.60 229.15,113.34 229.47,117.56 229.78,106.20 230.09,96.00 230.39,87.34 230.70,79.43 231.01,71.88 231.32,64.68 231.62,57.72 231.93,51.59 232.24,46.20 232.55,52.71 232.87,61.86 233.18,71.64 233.49,80.37 233.81,88.38 234.12,95.03 234.44,100.98 234.75,106.66 235.06,112.08 235.38,103.79 235.69,93.76 236.01,87.96 236.32,82.94 236.63,77.96 236.95,71.30 237.26,62.35 237.57,51.62 237.89,37.70 238.21,55.15 238.53,69.02 238.85,80.17 239.17,89.26 239.49,96.79 239.81,103.15 240.13,108.60 240.45,113.38 240.77,117.65 241.08,106.28 241.39,96.06 241.69,87.39 242.00,79.47 242.31,71.91 242.62,64.70 242.93,57.74 243.23,51.60 243.54,46.20 243.86,52.78 244.17,62.00 244.48,71.87 244.80,80.68 245.11,88.77 245.43,95.49 245.74,101.49 246.05,107.22 246.37,112.69 246.68,104.49 247.00,94.56 247.31,88.82 247.62,83.86 247.94,78.93 248.25,72.35 248.57,63.49 248.88,52.88 249.19,39.10 249.51,56.40 249.84,70.15 250.16,81.20 250.48,90.21 250.80,97.68 251.12,103.97 251.44,109.38 251.76,114.12 252.08,118.35 252.39,106.92 252.70,96.64 253.00,87.93 253.31,79.96 253.62,72.35 253.93,65.11 254.23,58.10 254.54,51.93 254.85,46.50 255.17,53.04 255.48,62.21 255.79,72.02 256.11,80.78 256.42,88.83 256.74,95.50 257.05,101.46 257.36,107.17 257.68,112.60 257.99,104.07 258.31,93.73 258.62,87.76 258.94,82.60 259.25,77.46 259.56,70.61 259.88,61.38 260.19,50.34 260.51,36.00 260.83,53.76 261.15,67.86 261.47,79.21 261.79,88.46 262.11,96.12 262.43,102.59 262.75,108.14 263.07,113.00 263.39,117.35 263.70,105.72 264.01,95.27 264.32,86.41 264.63,78.31 264.93,70.58 265.24,63.22 265.55,56.09 265.86,49.82 266.17,44.30 266.48,51.03 266.80,60.48 267.11,70.59 267.42,79.61 267.74,87.90 268.05,94.77 268.37,100.92 268.68,106.79 269.00,112.40 269.31,104.07 269.63,93.99 269.94,88.17 270.25,83.14 270.57,78.13 270.88,71.45 271.20,62.45 271.51,51.68 271.83,37.70 272.15,55.20 272.47,69.10 272.79,80.28 273.11,89.39 273.43,96.95 273.75,103.32 274.07,108.79 274.39,113.58 274.72,117.86 275.02,105.98 275.33,95.30 275.64,86.24 275.95,77.96 276.26,70.06 276.57,62.54 276.87,55.25 277.18,48.84 277.49,43.20 277.81,50.03 278.12,59.62 278.43,69.87 278.75,79.03 279.06,87.44 279.38,94.41 279.69,100.64 280.01,106.60 280.32,112.29 280.64,103.79 280.95,93.49 281.27,87.54 281.58,82.40 281.90,77.29 282.21,70.46 282.52,61.28 282.84,50.28 283.15,36.00 283.47,53.81 283.80,67.96 284.12,79.34 284.44,88.62 284.76,96.31 285.08,102.79 285.40,108.36 285.72,113.24 286.04,117.59 286.35,105.86 286.66,95.33 286.97,86.39 287.28,78.21 287.59,70.42 287.90,62.99 288.20,55.80 288.51,49.47 288.82,43.90 289.14,50.72 289.45,60.29 289.77,70.53 290.08,79.66 290.39,88.06 290.71,95.02 291.02,101.24 291.34,107.19 291.65,112.86 291.97,104.37 292.28,94.10 292.60,88.16 292.91,83.03 293.23,77.92 293.54,71.11 293.86,61.94 294.17,50.96 294.49,36.70 294.81,54.23 295.13,68.16 295.45,79.36 295.77,88.50 296.09,96.06 296.42,102.44 296.74,107.93 297.06,112.73 297.38,117.02 297.69,105.27 298.00,94.71 298.31,85.76 298.61,77.57 298.92,69.76 299.23,62.32 299.54,55.12 299.85,48.78 300.16,43.20 300.47,50.04 300.79,59.64 301.10,69.91 301.42,79.08 301.73,87.49 302.05,94.48 302.36,100.72 302.68,106.69 302.99,112.38 303.31,104.14 303.62,94.15 303.94,88.38 304.25,83.40 304.57,78.44 304.88,71.82 305.20,62.91 305.51,52.25 305.83,38.40 306.15,55.74 306.47,69.51 306.79,80.58 307.11,89.61 307.44,97.10 307.76,103.41 308.08,108.83 308.40,113.58 308.72,117.82 309.03,106.30 309.34,95.96 309.65,87.19 309.96,79.17 310.27,71.52 310.58,64.23 310.88,57.18 311.19,50.96 311.50,45.50 311.82,52.15 312.13,61.47 312.45,71.45 312.76,80.35 313.08,88.53 313.39,95.31 313.71,101.38 314.02,107.18 314.34,112.70 314.65,104.35 314.97,94.23 315.28,88.38 315.60,83.32 315.91,78.30 316.23,71.58 316.55,62.55 316.86,51.74 317.18,37.70 317.50,55.08 317.82,68.89 318.14,80.00 318.46,89.06 318.78,96.56 319.11,102.89 319.43,108.32 319.75,113.08 320.07,117.34 320.38,105.90 320.69,95.63 321.00,86.92 321.31,78.95 321.62,71.35 321.93,64.10 322.23,57.10 322.54,50.93 322.85,45.50 323.17,52.11 323.48,61.39 323.80,71.32 324.11,80.19 324.43,88.33 324.75,95.08 325.06,101.11 325.38,106.88 325.69,112.39 326.01,103.88 326.32,93.57 326.64,87.61 326.95,82.46 327.27,77.35 327.58,70.51 327.90,61.31 328.21,50.30 328.53,36.00 328.85,53.68 329.17,67.72 329.50,79.01 329.82,88.22 330.14,95.85 330.46,102.29 330.78,107.82 331.11,112.66 331.43,116.98 331.74,105.60 332.05,95.38 332.35,86.71 332.66,78.78 332.97,71.22 333.28,64.01 333.59,57.04 333.90,50.90 334.21,45.50 334.53,52.22 334.84,61.64 335.16,71.73 335.47,80.73 335.79,89.00 336.10,95.86 336.42,101.99 336.74,107.85 337.05,113.44 337.37,104.73 337.68,94.19 338.00,88.09 338.31,82.83 338.63,77.59 338.94,70.60 339.26,61.19 339.58,49.93 339.89,35.30 340.21,53.04 340.54,67.13 340.86,78.46 341.18,87.70 341.50,95.36 341.82,101.81 342.15,107.36 342.47,112.22 342.79,116.55 343.10,104.88 343.41,94.39 343.72,85.49 344.03,77.35 344.34,69.59 344.65,62.20 344.96,55.04 345.27,48.74 345.58,43.20 345.89,50.19 346.21,59.99 346.52,70.48 346.84,79.84 347.15,88.44 347.47,95.57 347.79,101.94 348.10,108.04 348.42,113.85 348.73,105.17 349.05,94.67 349.36,88.60 349.68,83.35 350.00,78.14 350.31,71.17 350.63,61.80 350.94,50.57 351.26,36.00 351.58,53.76 351.90,67.88 352.23,79.23 352.55,88.48 352.87,96.15 353.19,102.62 353.52,108.17 353.84,113.04 354.16,117.38 354.47,105.68 354.78,95.18 355.09,86.26 355.40,78.11 355.71,70.34 356.02,62.93 356.33,55.76 356.64,49.45 356.95,43.90 357.26,50.73 357.58,60.32 357.89,70.58 358.21,79.74 358.53,88.15 358.84,95.13 359.16,101.36 359.47,107.32 359.79,113.01 360.11,104.47 360.42,94.14 360.74,88.16 361.05,83.00 361.37,77.87 361.69,71.01 362.00,61.79 362.32,50.74 362.63,36.40 362.96,54.16 363.28,68.27 363.60,79.61 363.92,88.86 364.25,96.53 364.57,102.99 364.89,108.54 365.21,113.41 365.54,117.75 365.85,105.88 366.16,95.22 366.47,86.18 366.78,77.91 367.09,70.02 367.40,62.51 367.71,55.24 368.02,48.83 368.33,43.20 368.64,50.16 368.96,59.92 369.27,70.37 369.59,79.69 369.91,88.26 370.22,95.36 370.54,101.71 370.85,107.78 371.17,113.57 371.49,104.93 371.80,94.46 372.12,88.41 372.44,83.18 372.75,77.99 373.07,71.04 373.38,61.70 373.70,50.52 374.02,36.00 374.34,53.87 374.66,68.08 374.98,79.50 375.31,88.81 375.63,96.52 375.95,103.03 376.27,108.62 376.60,113.51 376.92,117.88 377.23,105.88 377.54,95.11 377.85,85.96 378.16,77.60 378.47,69.62 378.78,62.02 379.09,54.67 379.40,48.20 379.71,42.50 380.03,49.52 380.34,59.36 380.66,69.89 380.98,79.29 381.29,87.92 381.61,95.08 381.93,101.48 382.24,107.60 382.56,113.44 382.87,104.89 383.19,94.53 383.51,88.55 383.82,83.38 384.14,78.24 384.46,71.37 384.77,62.13 385.09,51.07 385.40,36.70 385.73,54.17 386.05,68.05 386.37,79.21 386.70,88.31 387.02,95.85 387.34,102.21 387.67,107.67 387.99,112.45 388.31,116.73 388.62,104.97 388.93,94.42 389.24,85.46 389.55,77.27 389.86,69.46 390.17,62.02 390.48,54.82 390.79,48.48 391.10,42.90 391.42,49.90 391.74,59.73 392.05,70.25 392.37,79.63 392.69,88.26 393.00,95.40 393.32,101.80 393.64,107.91 393.95,113.73 394.27,105.21 394.58,94.88 394.90,88.91 395.22,83.75 395.53,78.63 395.85,71.78 396.17,62.56 396.48,51.53 396.80,37.20 397.12,54.51 397.45,68.27 397.77,79.33 398.09,88.35 398.42,95.82 398.74,102.12 399.06,107.54 399.39,112.28 399.71,116.51 400.02,104.96 400.33,94.57 400.64,85.76 400.95,77.71 401.26,70.03 401.57,62.71 401.88,55.62 402.19,49.39 402.50,43.90 402.82,50.86 403.14,60.63 403.45,71.07 403.77,80.40 404.09,88.97 404.40,96.07 404.72,102.42 405.04,108.49 405.35,114.28 405.67,105.69 405.99,95.29 406.30,89.28 406.62,84.09 406.94,78.92 407.25,72.02 407.57,62.74 407.89,51.63 408.20,37.20 408.53,54.57 408.85,68.36 409.17,79.46 409.50,88.50 409.82,96.00 410.14,102.32 410.47,107.75 410.79,112.51 411.11,116.75 411.42,105.22 411.73,94.86 412.04,86.07 412.36,78.03 412.67,70.37 412.98,63.06 413.29,56.00 413.60,49.77 413.91,44.30 414.23,51.19 414.54,60.86 414.86,71.21 415.18,80.44 415.49,88.93 415.81,95.96 416.13,102.25 416.44,108.26 416.76,114.00 417.08,105.05 417.39,94.21 417.71,87.95 418.03,82.54 418.35,77.16 418.66,69.98 418.98,60.31 419.30,48.73 419.61,33.70 419.94,51.84 420.26,66.25 420.58,77.84 420.91,87.29 421.23,95.12 421.55,101.73 421.88,107.40 422.20,112.37 422.52,116.80 422.83,104.82 423.15,94.05 423.46,84.91 423.77,76.56 424.08,68.60 424.39,61.00 424.70,53.66 425.01,47.19 425.32,41.50 425.64,48.66 425.96,58.71 426.27,69.46 426.59,79.05 426.91,87.87 427.22,95.18 427.54,101.71 427.86,107.96 428.18,113.92 428.49,105.16 428.81,94.55 429.13,88.42 429.44,83.12 429.76,77.85 430.08,70.82 430.40,61.35 430.71,50.02 431.03,35.30 431.35,52.91 431.68,66.90 432.00,78.15 432.32,87.32 432.65,94.92 432.97,101.33 433.29,106.84 433.62,111.66 433.94,115.97 434.25,104.00 434.56,93.26 434.88,84.14 435.19,75.80 435.50,67.85 435.81,60.27 436.12,52.94 436.43,46.48 436.74,40.80 437.06,47.91 437.38,57.88 437.69,68.56 438.01,78.08 438.33,86.83 438.64,94.09 438.96,100.57 439.28,106.78 439.60,112.69 439.91,103.89 440.23,93.23 440.55,87.07 440.87,81.75 441.18,76.46 441.50,69.39 441.82,59.88 442.14,48.49 442.45,33.70 442.78,51.69 443.10,65.98 443.42,77.47 443.75,86.84 444.07,94.60 444.40,101.15 444.72,106.78 445.04,111.70 445.37,116.10 445.68,104.23 445.99,93.56 446.30,84.51 446.61,76.24 446.92,68.34 447.23,60.82 447.55,53.54 447.86,47.14 448.17,41.50 448.49,48.54 448.80,58.41 449.12,68.97 449.44,78.40 449.76,87.06 450.07,94.24 450.39,100.66 450.71,106.80 451.03,112.65 451.34,103.99 451.66,93.50 451.98,87.43 452.30,82.20 452.61,76.99 452.93,70.03 453.25,60.67 453.57,49.46 453.88,34.90 454.21,52.67 454.53,66.79 454.86,78.14 455.18,87.40 455.50,95.07 455.83,101.54 456.15,107.09 456.48,111.96 456.80,116.31 457.11,104.18 457.42,93.28 457.73,84.04 458.04,75.58 458.36,67.52 458.67,59.84 458.98,52.40 459.29,45.86 459.60,40.10 459.92,47.22 460.24,57.22 460.55,67.91 460.87,77.45 461.19,86.22 461.51,93.49 461.83,99.99 462.14,106.20 462.46,112.13 462.78,103.57 463.10,93.20 463.41,87.21 463.73,82.03 464.05,76.88 464.37,70.01 464.68,60.76 465.00,49.68 465.32,35.30 465.64,52.69 465.97,66.51 466.29,77.62 466.62,86.68 466.94,94.18 467.27,100.51 467.59,105.95 467.91,110.72 468.24,114.97 468.55,102.97 468.86,92.19 469.17,83.05 469.48,74.69 469.80,66.72 470.11,59.12 470.42,51.77 470.73,45.30 471.04,39.60 471.36,46.68 471.68,56.62 472.00,67.25 472.31,76.73 472.63,85.45 472.95,92.68 473.27,99.14 473.59,105.32 473.90,111.21 474.22,102.70 474.54,92.41 474.86,86.46 475.17,81.31 475.49,76.20 475.81,69.37 476.13,60.19 476.45,49.18 476.76,34.90 477.09,52.23 477.41,65.99 477.74,77.06 478.06,86.08 478.39,93.56 478.71,99.87 479.04,105.28 479.36,110.03 479.68,114.27 480.00,102.76 480.31,92.43 480.62,83.66 480.93,75.65 481.24,68.00 481.55,60.72 481.87,53.67 482.18,47.46 482.49,42.00 482.81,48.91 483.13,58.59 483.44,68.96 483.76,78.21 484.08,86.71 484.40,93.76 484.72,100.06 485.03,106.08 485.35,111.83 485.67,103.18 485.99,92.70 486.31,86.65 486.62,81.42 486.94,76.22 487.26,69.27 487.58,59.92 487.90,48.73 488.21,34.20 488.54,51.73 488.86,65.66 489.19,76.86 489.51,85.99 489.84,93.56 490.16,99.94 490.49,105.42 490.81,110.22 491.14,114.51 491.45,103.04 491.76,92.75 492.07,84.01 492.38,76.03 492.70,68.41 493.01,61.15 493.32,54.13 493.63,47.94 493.94,42.50 494.26,49.26 494.58,58.74 494.90,68.89 495.22,77.94 495.54,86.26 495.85,93.15 496.17,99.32 496.49,105.22 496.81,110.84 497.13,102.17 497.44,91.66 497.76,85.59 498.08,80.35 498.40,75.13 498.72,68.16 499.04,58.79 499.35,47.57 499.67,33.00 500.00,50.88 500.32,65.09 500.65,76.51 500.97,85.83 501.30,93.55 501.62,100.06 501.95,105.65 502.27,110.55 502.60,114.92 502.91,102.87 503.22,92.04 503.53,82.85 503.84,74.46 504.16,66.45 504.47,58.81 504.78,51.43 505.09,44.92 505.41,39.20 505.72,46.32 506.04,56.30 506.36,66.98 506.68,76.52 507.00,85.27 507.32,92.54 507.63,99.03 507.95,105.24 508.27,111.16 508.59,102.35 508.91,91.68 509.23,85.52 509.55,80.19 509.86,74.89 510.18,67.82 510.50,58.30 510.82,46.90 511.14,32.10 511.46,50.13 511.79,64.45 512.11,75.97 512.44,85.37 512.76,93.15 513.09,99.71 513.41,105.35 513.74,110.29 514.06,114.70 514.38,102.82 514.69,92.15 515.00,83.11 515.31,74.83 515.62,66.94 515.94,59.42 516.25,52.14 516.56,45.74 516.87,40.10 517.19,47.18 517.51,57.11 517.83,67.74 518.15,77.23 518.47,85.94 518.79,93.16 519.10,99.62 519.42,105.80 519.74,111.69 520.06,103.13 520.38,92.77 520.70,86.78 521.02,81.61 521.33,76.46 521.65,69.59 521.97,60.35 522.29,49.27 522.61,34.90 524.00,61.74" stroke="#fb0d0d" stroke-width="1.6"/>
<polyline points="54.40,124.44 55.82,124.44 57.24,124.92 58.66,124.85 60.08,125.22 61.51,125.44 62.93,125.15 64.35,124.94 65.77,125.47 67.19,125.16 68.61,125.72 70.03,125.66 71.45,125.70 72.88,124.89 74.30,125.96 75.72,125.49 77.14,125.67 78.56,125.83 79.98,125.66 81.40,125.28 82.82,126.18 84.25,125.76 85.67,125.66 87.09,125.78 88.51,125.71 89.93,125.37 91.35,126.35 92.77,126.17 94.19,125.54 95.62,126.11 97.04,126.14 98.46,126.18 99.88,126.13 101.30,126.49 102.72,125.45 104.14,126.43 105.56,126.54 106.98,126.08 108.41,125.97 109.83,126.35 111.25,125.93 112.67,126.48 114.09,126.74 115.51,126.25 116.93,126.16 118.35,126.56 119.78,126.08 121.20,126.71 122.62,126.99 124.04,126.50 125.46,126.40 126.88,127.00 128.30,126.80 129.72,126.93 131.15,127.18 132.57,126.13 133.99,126.70 135.41,127.18 136.83,127.12 138.25,126.57 139.67,127.18 141.09,126.19 142.52,126.87 143.94,127.15 145.36,126.92 146.78,126.20 148.20,127.20 149.62,126.78 151.04,126.66 152.46,127.35 153.88,126.89 155.31,126.22 156.73,126.94 158.15,127.05 159.57,127.01 160.99,127.05 162.41,126.85 163.83,126.31 165.25,127.20 166.68,127.22 168.10,126.92 169.52,127.47 170.94,126.79 172.36,127.01 173.78,127.14 175.20,127.33 176.62,126.69 178.05,127.01 179.47,126.83 180.89,126.99 182.31,127.38 183.73,127.39 185.15,126.41 186.57,127.37 187.99,127.22 189.42,127.40 190.84,127.60 192.26,127.42 193.68,126.78 195.10,127.31 196.52,127.82 197.94,127.31 199.36,127.51 200.78,127.50 202.21,127.35 203.63,127.45 205.05,128.07 206.47,127.36 207.89,127.41 209.31,127.46 210.73,127.76 212.15,127.62 213.58,128.29 215.00,127.07 216.42,127.53 217.84,127.88 219.26,127.66 220.68,127.81 222.10,128.31 223.52,127.26 224.95,127.74 226.37,128.25 227.79,128.17 229.21,127.82 230.63,128.29 232.05,127.93 233.47,127.65 234.89,128.48 236.32,128.25 237.74,128.20 239.16,128.10 240.58,128.26 242.00,128.12 243.42,128.85 244.84,128.16 246.26,127.97 247.68,128.04 249.11,128.20 250.53,127.36 251.95,127.61 253.37,126.55 254.79,125.53 256.21,126.03 257.63,126.24 259.05,125.32 260.48,125.56 261.90,125.39 263.32,124.80 264.74,125.42 266.16,125.65 267.58,125.28 269.00,125.31 270.42,125.70 271.85,125.42 273.27,126.49 274.69,126.19 276.11,126.05 277.53,125.98 278.95,126.78 280.37,126.37 281.79,126.85 283.22,126.09 284.64,125.46 286.06,125.34 287.48,126.03 288.90,124.98 290.32,125.81 291.74,125.92 293.16,125.60 294.58,126.15 296.01,127.18 297.43,126.52 298.85,126.78 300.27,127.03 301.69,126.78 303.11,127.36 304.53,127.99 305.95,127.34 307.38,127.34 308.80,128.28 310.22,127.82 311.64,128.08 313.06,128.28 314.48,127.59 315.90,127.23 317.32,128.63 318.75,127.98 320.17,128.08 321.59,127.79 323.01,127.89 324.43,127.56 325.85,127.99 327.27,127.43 328.69,127.07 330.12,127.06 331.54,126.80 332.96,126.40 334.38,126.83 335.80,126.14 337.22,125.42 338.64,126.10 340.06,125.69 341.48,125.63 342.91,125.27 344.33,125.29 345.75,124.39 347.17,125.26 348.59,125.13 350.01,125.03 351.43,124.93 352.85,124.91 354.28,124.75 355.70,125.53 357.12,125.40 358.54,125.26 359.96,125.27 361.38,125.65 362.80,125.49 364.22,126.09 365.65,125.85 367.07,125.30 368.49,126.05 369.91,126.48 371.33,126.48 372.75,126.71 374.17,126.90 375.59,126.55 377.02,127.45 378.44,127.66 379.86,127.84 381.28,127.91 382.70,128.35 384.12,127.65 385.54,127.98 386.96,128.39 388.38,128.14 389.81,127.41 391.23,128.05 392.65,127.35 394.07,127.86 395.49,127.75 396.91,127.18 398.33,126.93 399.75,126.80 401.18,125.76 402.60,125.20 404.02,124.70 405.44,123.61 406.86,123.61 408.28,123.78 409.70,122.78 411.12,122.55 412.55,123.28 413.97,123.12 415.39,123.78 416.81,124.81 418.23,125.10 419.65,124.60 421.07,125.12 422.49,124.65 423.92,124.67 425.34,124.95 426.76,124.74 428.18,123.68 429.60,124.24 431.02,123.92 432.44,123.79 433.86,123.90 435.28,123.77 436.71,123.05 438.13,123.98 439.55,123.89 440.97,123.28 442.39,123.67 443.81,123.73 445.23,123.80 446.65,124.35 448.08,124.82 449.50,124.03 450.92,124.59 452.34,124.84 453.76,125.09 455.18,125.16 456.60,125.73 458.02,124.87 459.45,125.87 460.87,126.14 462.29,125.97 463.71,126.22 465.13,126.51 466.55,125.52 467.97,126.32 469.39,126.53 470.82,126.54 472.24,126.42 473.66,126.85 475.08,126.24 476.50,126.27 477.92,126.45 479.34,125.32 480.76,124.77 482.18,124.90 483.61,124.31 485.03,124.29 486.45,125.04 487.87,123.71 489.29,123.85 490.71,124.10 492.13,124.42 493.55,123.65 494.98,124.05 496.40,123.49 497.82,123.36 499.24,124.05 500.66,123.85 502.08,123.29 503.50,123.77 504.92,123.00 506.35,123.15 507.77,123.24 509.19,123.14 510.61,122.87 512.03,123.81 513.45,123.90 514.87,124.39 516.29,125.43 517.72,124.83 519.14,124.61 520.56,124.96 521.98,125.23 523.40,124.25" stroke="#a658cc" stroke-width="1.8"/>
<polyline points="54.00,162.00 54.90,162.00 54.90,179.40 57.93,179.40 57.93,162.00 60.98,161.50 60.98,144.65 63.58,144.65 63.99,149.45 64.40,153.12 64.82,155.93 65.23,158.09 65.64,159.74 66.05,161.00 66.30,161.00 66.30,179.40 69.13,179.40 69.13,162.00 72.17,161.50 72.17,144.65 74.78,144.65 75.19,149.45 75.60,153.12 76.02,155.93 76.43,158.09 76.84,159.74 77.25,161.00 77.50,161.00 77.50,179.40 80.33,179.40 80.33,162.00 83.38,161.50 83.38,144.65 85.99,144.65 86.40,149.45 86.81,153.12 87.22,155.93 87.63,158.09 88.04,159.74 88.46,161.00 88.71,161.00 88.71,179.40 91.54,179.40 91.54,162.00 94.59,161.50 94.59,144.65 97.20,144.65 97.61,149.45 98.02,153.12 98.44,155.93 98.85,158.09 99.26,159.74 99.67,161.00 99.92,161.00 99.92,179.40 102.75,179.40 102.75,162.00 105.81,161.50 105.81,144.65 108.42,144.65 108.83,149.45 109.24,153.12 109.66,155.93 110.07,158.09 110.48,159.74 110.89,161.00 111.14,161.00 111.14,179.40 113.98,179.40 113.98,162.00 117.03,161.50 117.03,144.65 119.65,144.65 120.06,149.45 120.47,153.12 120.88,155.93 121.30,158.09 121.71,159.74 122.12,161.00 122.37,161.00 122.37,179.40 125.21,179.40 125.21,162.00 128.26,161.50 128.26,144.65 130.88,144.65 131.29,149.45 131.71,153.12 132.12,155.93 132.53,158.09 132.94,159.74 133.35,161.00 133.60,161.00 133.60,179.40 136.44,179.40 136.44,162.00 139.50,161.50 139.50,144.65 142.12,144.65 142.53,149.45 142.95,153.12 143.36,155.93 143.77,158.09 144.18,159.74 144.60,161.00 144.85,161.00 144.85,179.40 147.69,179.40 147.69,162.00 150.75,161.50 150.75,144.65 153.37,144.65 153.78,149.45 154.20,153.12 154.61,155.93 155.02,158.09 155.43,159.74 155.85,161.00 156.10,161.00 156.10,179.40 158.94,179.40 158.94,162.00 162.00,161.50 162.00,144.65 164.62,144.65 165.04,149.45 165.45,153.12 165.86,155.93 166.28,158.09 166.69,159.74 167.10,161.00 167.35,161.00 167.35,179.40 170.20,179.40 170.20,162.00 173.26,161.50 173.26,144.65 175.89,144.65 176.30,149.45 176.71,153.12 177.12,155.93 177.54,158.09 177.95,159.74 178.36,161.00 178.61,161.00 178.61,179.40 181.46,179.40 181.46,162.00 184.53,161.50 184.53,144.65 187.15,144.65 187.57,149.45 187.98,153.12 188.39,155.93 188.81,158.09 189.22,159.74 189.63,161.00 189.88,161.00 189.88,179.40 192.73,179.40 192.73,162.00 195.80,161.50 195.80,144.65 198.43,144.65 198.84,149.45 199.26,153.12 199.67,155.93 200.08,158.09 200.50,159.74 200.91,161.00 201.16,161.00 201.16,179.40 204.01,179.40 204.01,162.00 207.08,161.50 207.08,144.65 209.71,144.65 210.12,149.45 210.54,153.12 210.95,155.93 211.37,158.09 211.78,159.74 212.19,161.00 212.44,161.00 212.44,179.40 215.30,179.40 215.30,162.00 218.37,161.50 218.37,144.65 221.00,144.65 221.41,149.45 221.83,153.12 222.24,155.93 222.66,158.09 223.07,159.74 223.48,161.00 223.73,161.00 223.73,179.40 226.59,179.40 226.59,162.00 229.66,161.50 229.66,144.65 232.30,144.65 232.71,149.45 233.12,153.12 233.54,155.93 233.95,158.09 234.37,159.74 234.78,161.00 235.03,161.00 235.03,179.40 237.89,179.40 237.89,162.00 240.96,161.50 240.96,144.65 243.60,144.65 244.01,149.45 244.43,153.12 244.84,155.93 245.26,158.09 245.67,159.74 246.09,161.00 246.34,161.00 246.34,179.40 249.19,179.40 249.19,162.00 252.27,161.50 252.27,144.65 254.91,144.65 255.32,149.45 255.74,153.12 256.15,155.93 256.57,158.09 256.98,159.74 257.40,161.00 257.65,161.00 257.65,179.40 260.51,179.40 260.51,162.00 263.59,161.50 263.59,144.65 266.22,144.65 266.64,149.45 267.05,153.12 267.47,155.93 267.88,158.09 268.30,159.74 268.71,161.00 268.96,161.00 268.96,179.40 271.83,179.40 271.83,162.00 274.91,161.50 274.91,144.65 277.55,144.65 277.96,149.45 278.38,153.12 278.79,155.93 279.21,158.09 279.62,159.74 280.04,161.00 280.29,161.00 280.29,179.40 283.15,179.40 283.15,162.00 286.24,161.50 286.24,144.65 288.88,144.65 289.29,149.45 289.71,153.12 290.12,155.93 290.54,158.09 290.96,159.74 291.37,161.00 291.62,161.00 291.62,179.40 294.49,179.40 294.49,162.00 297.57,161.50 297.57,144.65 300.21,144.65 300.63,149.45 301.05,153.12 301.46,155.93 301.88,158.09 302.29,159.74 302.71,161.00 302.96,161.00 302.96,179.40 305.83,179.40 305.83,162.00 308.91,161.50 308.91,144.65 311.56,144.65 311.97,149.45 312.39,153.12 312.81,155.93 313.22,158.09 313.64,159.74 314.05,161.00 314.30,161.00 314.30,179.40 317.18,179.40 317.18,162.00 320.26,161.50 320.26,144.65 322.91,144.65 323.33,149.45 323.74,153.12 324.16,155.93 324.57,158.09 324.99,159.74 325.41,161.00 325.66,161.00 325.66,179.40 328.53,179.40 328.53,162.00 331.62,161.50 331.62,144.65 334.27,144.65 334.68,149.45 335.10,153.12 335.52,155.93 335.93,158.09 336.35,159.74 336.77,161.00 337.02,161.00 337.02,179.40 339.89,179.40 339.89,162.00 342.98,161.50 342.98,144.65 345.63,144.65 346.05,149.45 346.47,153.12 346.88,155.93 347.30,158.09 347.72,159.74 348.13,161.00 348.38,161.00 348.38,179.40 351.26,179.40 351.26,162.00 354.35,161.50 354.35,144.65 357.00,144.65 357.42,149.45 357.84,153.12 358.25,155.93 358.67,158.09 359.09,159.74 359.51,161.00 359.76,161.00 359.76,179.40 362.63,179.40 362.63,162.00 365.73,161.50 365.73,144.65 368.38,144.65 368.80,149.45 369.22,153.12 369.63,155.93 370.05,158.09 370.47,159.74 370.89,161.00 371.14,161.00 371.14,179.40 374.02,179.40 374.02,162.00 377.11,161.50 377.11,144.65 379.77,144.65 380.19,149.45 380.60,153.12 381.02,155.93 381.44,158.09 381.86,159.74 382.27,161.00 382.52,161.00 382.52,179.40 385.40,179.40 385.40,162.00 388.50,161.50 388.50,144.65 391.16,144.65 391.58,149.45 392.00,153.12 392.41,155.93 392.83,158.09 393.25,159.74 393.67,161.00 393.92,161.00 393.92,179.40 396.80,179.40 396.80,162.00 399.90,161.50 399.90,144.65 402.56,144.65 402.98,149.45 403.40,153.12 403.81,155.93 404.23,158.09 404.65,159.74 405.07,161.00 405.32,161.00 405.32,179.40 408.20,179.40 408.20,162.00 411.31,161.50 411.31,144.65 413.97,144.65 414.38,149.45 414.80,153.12 415.22,155.93 415.64,158.09 416.06,159.74 416.48,161.00 416.73,161.00 416.73,179.40 419.61,179.40 419.61,162.00 422.72,161.50 422.72,144.65 425.38,144.65 425.80,149.45 426.22,153.12 426.63,155.93 427.05,158.09 427.47,159.74 427.89,161.00 428.14,161.00 428.14,179.40 431.03,179.40 431.03,162.00 434.14,161.50 434.14,144.65 436.80,144.65 437.22,149.45 437.64,153.12 438.05,155.93 438.47,158.09 438.89,159.74 439.31,161.00 439.56,161.00 439.56,179.40 442.45,179.40 442.45,162.00 445.56,161.50 445.56,144.65 448.22,144.65 448.64,149.45 449.06,153.12 449.48,155.93 449.90,158.09 450.32,159.74 450.74,161.00 450.99,161.00 450.99,179.40 453.88,179.40 453.88,162.00 456.99,161.50 456.99,144.65 459.66,144.65 460.08,149.45 460.50,153.12 460.92,155.93 461.34,158.09 461.76,159.74 462.17,161.00 462.42,161.00 462.42,179.40 465.32,179.40 465.32,162.00 468.43,161.50 468.43,144.65 471.10,144.65 471.52,149.45 471.94,153.12 472.36,155.93 472.78,158.09 473.20,159.74 473.62,161.00 473.87,161.00 473.87,179.40 476.76,179.40 476.76,162.00 479.88,161.50 479.88,144.65 482.55,144.65 482.97,149.45 483.39,153.12 483.81,155.93 484.23,158.09 484.65,159.74 485.07,161.00 485.32,161.00 485.32,179.40 488.21,179.40 488.21,162.00 491.33,161.50 491.33,144.65 494.00,144.65 494.42,149.45 494.84,153.12 495.26,155.93 495.68,158.09 496.10,159.74 496.52,161.00 496.77,161.00 496.77,179.40 499.67,179.40 499.67,162.00 502.79,161.50 502.79,144.65 505.46,144.65 505.88,149.45 506.30,153.12 506.72,155.93 507.14,158.09 507.56,159.74 507.98,161.00 508.23,161.00 508.23,179.40 511.14,179.40 511.14,162.00 514.26,161.50 514.26,144.65 516.93,144.65 517.35,149.45 517.77,153.12 518.19,155.93 518.61,158.09 519.03,159.74 519.45,161.00 519.70,161.00 519.70,179.40 522.61,179.40 522.61,162.00 524.00,162.00" stroke="#00008b" stroke-width="1.75" stroke-linejoin="miter"/>
</g>
<rect x="71.4" y="26.4" width="10.4" height="158.0" fill="#05699a" fill-opacity="0.38" stroke="#1a1a1a" stroke-width="0.9"/>
<rect x="31.0" y="24.3" width="515.7" height="163.1" fill="none" stroke="#303030" stroke-width="1.15"/>
<line x1="27.0" y1="174.65" x2="31.0" y2="174.65" stroke="#303030" stroke-width="1.1"/>
<text class="t" x="25.3" y="178.40" font-size="10.4" text-anchor="end" textLength="10.2" lengthAdjust="spacingAndGlyphs" fill="#1a1a1a">15</text>
<line x1="27.0" y1="143.80" x2="31.0" y2="143.80" stroke="#303030" stroke-width="1.1"/>
<text class="t" x="25.3" y="147.55" font-size="10.4" text-anchor="end" textLength="10.2" lengthAdjust="spacingAndGlyphs" fill="#1a1a1a">20</text>
<line x1="27.0" y1="112.95" x2="31.0" y2="112.95" stroke="#303030" stroke-width="1.1"/>
<text class="t" x="25.3" y="116.70" font-size="10.4" text-anchor="end" textLength="10.2" lengthAdjust="spacingAndGlyphs" fill="#1a1a1a">25</text>
<line x1="27.0" y1="82.10" x2="31.0" y2="82.10" stroke="#303030" stroke-width="1.1"/>
<text class="t" x="25.3" y="85.85" font-size="10.4" text-anchor="end" textLength="10.2" lengthAdjust="spacingAndGlyphs" fill="#1a1a1a">30</text>
<line x1="27.0" y1="51.25" x2="31.0" y2="51.25" stroke="#303030" stroke-width="1.1"/>
<text class="t" x="25.3" y="55.00" font-size="10.4" text-anchor="end" textLength="10.2" lengthAdjust="spacingAndGlyphs" fill="#1a1a1a">35</text>
<line x1="54.35" y1="187.4" x2="54.35" y2="191.5" stroke="#303030" stroke-width="1.1"/>
<text class="t" x="54.45" y="200.7" font-size="10.4" text-anchor="middle" textLength="5.2" lengthAdjust="spacingAndGlyphs" fill="#1a1a1a">0</text>
<line x1="117.14" y1="187.4" x2="117.14" y2="191.5" stroke="#303030" stroke-width="1.1"/>
<text class="t" x="117.24" y="200.7" font-size="10.4" text-anchor="middle" textLength="10.3" lengthAdjust="spacingAndGlyphs" fill="#1a1a1a">20</text>
<line x1="179.93" y1="187.4" x2="179.93" y2="191.5" stroke="#303030" stroke-width="1.1"/>
<text class="t" x="180.03" y="200.7" font-size="10.4" text-anchor="middle" textLength="10.3" lengthAdjust="spacingAndGlyphs" fill="#1a1a1a">40</text>
<line x1="242.73" y1="187.4" x2="242.73" y2="191.5" stroke="#303030" stroke-width="1.1"/>
<text class="t" x="242.83" y="200.7" font-size="10.4" text-anchor="middle" textLength="10.3" lengthAdjust="spacingAndGlyphs" fill="#1a1a1a">60</text>
<line x1="305.52" y1="187.4" x2="305.52" y2="191.5" stroke="#303030" stroke-width="1.1"/>
<text class="t" x="305.62" y="200.7" font-size="10.4" text-anchor="middle" textLength="10.3" lengthAdjust="spacingAndGlyphs" fill="#1a1a1a">80</text>
<line x1="368.31" y1="187.4" x2="368.31" y2="191.5" stroke="#303030" stroke-width="1.1"/>
<text class="t" x="368.41" y="200.7" font-size="10.4" text-anchor="middle" textLength="15.5" lengthAdjust="spacingAndGlyphs" fill="#1a1a1a">100</text>
<line x1="431.10" y1="187.4" x2="431.10" y2="191.5" stroke="#303030" stroke-width="1.1"/>
<text class="t" x="431.20" y="200.7" font-size="10.4" text-anchor="middle" textLength="15.5" lengthAdjust="spacingAndGlyphs" fill="#1a1a1a">120</text>
<line x1="493.89" y1="187.4" x2="493.89" y2="191.5" stroke="#303030" stroke-width="1.1"/>
<text class="t" x="493.99" y="200.7" font-size="10.4" text-anchor="middle" textLength="15.5" lengthAdjust="spacingAndGlyphs" fill="#1a1a1a">140</text>
<text class="ax" x="288.7" y="211.3" font-size="10.4" text-anchor="middle" textLength="57.3" lengthAdjust="spacingAndGlyphs" fill="#1a1a1a">Time (Hours)</text>
<text class="ax" transform="translate(10.7,105.7) rotate(-90)" font-size="10.4" text-anchor="middle" textLength="75.3" lengthAdjust="spacingAndGlyphs" fill="#1a1a1a">Temperature (°C)</text>
<text x="101.8" y="137.5" font-size="10.4" textLength="63.0" lengthAdjust="spacingAndGlyphs" fill="#1a1a1a">Current profile</text>
<text x="168.4" y="137.5" font-size="10.4" textLength="57.1" lengthAdjust="spacingAndGlyphs" fill="#1a1a1a">(+3 A to -3 A)</text>
<line x1="106.8" y1="141.2" x2="112.9" y2="147.0" stroke="#111" stroke-width="1.5"/>
<polygon points="115.0,149.1 109.7,147.0 112.9,143.7" fill="#111"/>
<rect x="34.2" y="4.6" width="384.4" height="17.2" rx="1.8" fill="#ffffff" fill-opacity="0.8" stroke="#e2e2e2" stroke-width="0.8"/>
<line x1="37.9" y1="12.6" x2="59.7" y2="12.6" stroke="#0d72be" stroke-width="1.8"/>
<text x="67.4" y="16.4" font-size="10" textLength="10.6" lengthAdjust="spacingAndGlyphs" fill="#1a1a1a">T1</text>
<line x1="97.7" y1="12.6" x2="119.5" y2="12.6" stroke="#ff7f0e" stroke-width="1.8"/>
<text x="127.2" y="16.4" font-size="10" textLength="10.9" lengthAdjust="spacingAndGlyphs" fill="#1a1a1a">T2</text>
<line x1="157.7" y1="12.6" x2="179.5" y2="12.6" stroke="#0c9c10" stroke-width="1.8"/>
<text x="187.2" y="16.4" font-size="10" textLength="10.9" lengthAdjust="spacingAndGlyphs" fill="#1a1a1a">T3</text>
<line x1="217.6" y1="12.6" x2="239.4" y2="12.6" stroke="#fb0d0d" stroke-width="1.8"/>
<text x="247.1" y="16.4" font-size="10" textLength="11.0" lengthAdjust="spacingAndGlyphs" fill="#1a1a1a">T4</text>
<line x1="277.6" y1="12.6" x2="299.40000000000003" y2="12.6" stroke="#a658cc" stroke-width="1.8"/>
<text x="307.1" y="16.4" font-size="10" textLength="11.0" lengthAdjust="spacingAndGlyphs" fill="#1a1a1a">TA</text>
<line x1="337.1" y1="12.6" x2="358.90000000000003" y2="12.6" stroke="#00008b" stroke-width="1.8"/>
<text x="366.6" y="16.4" font-size="10" textLength="47.2" lengthAdjust="spacingAndGlyphs" fill="#1a1a1a">current (A)</text>
<text x="274.7" y="230.1" font-size="10.6" text-anchor="middle" fill="#1a1a1a">(<tspan font-weight="bold">a</tspan>)</text>
<clipPath id="cb"><rect x="187.2" y="239.2" width="180.10000000000002" height="179.2"/></clipPath>
<g clip-path="url(#cb)" fill="none" stroke-linejoin="round">
<line x1="199.9" y1="240.4" x2="199.9" y2="418.4" stroke="#111" stroke-width="2.0" stroke-dasharray="1.8 3.1"/>
<line x1="245.4" y1="240.4" x2="245.4" y2="418.4" stroke="#111" stroke-width="2.0" stroke-dasharray="1.8 3.1"/>
<line x1="286.76" y1="240.4" x2="286.76" y2="418.4" stroke="#111" stroke-width="2.0" stroke-dasharray="1.8 3.1"/>
<line x1="295.64" y1="240.4" x2="295.64" y2="418.4" stroke="#111" stroke-width="2.0" stroke-dasharray="1.8 3.1"/>
<line x1="186.9" y1="369.35" x2="367.3" y2="369.35" stroke="#fb0d0d" stroke-width="1.9" stroke-dasharray="1.9 3.01"/>
<line x1="186.9" y1="411.05" x2="367.3" y2="411.05" stroke="#fb0d0d" stroke-width="1.9" stroke-dasharray="1.9 3.01"/>
<polyline points="194.60,337.38 195.39,337.70 196.17,338.07 196.96,338.47 197.74,338.91 198.53,339.39 199.31,339.93 200.10,340.51 200.80,340.28 201.51,339.74 202.21,338.88 202.91,337.20 203.62,335.13 204.32,332.92 205.03,330.37 205.73,327.76 206.43,325.11 207.14,322.45 207.84,319.87 208.54,317.94 209.25,316.52 209.95,315.34 210.66,314.33 211.36,313.43 212.06,312.59 212.77,311.85 213.47,311.22 214.17,310.72 214.88,310.33 215.58,309.99 216.28,309.68 216.99,309.36 217.69,308.99 218.40,308.61 219.10,308.24 219.80,307.85 220.51,307.43 221.21,306.97 221.91,306.46 222.62,305.86 223.32,305.11 224.03,304.27 224.73,303.36 225.43,302.44 226.14,301.52 226.84,300.66 227.54,299.79 228.25,298.90 228.95,298.00 229.65,297.14 230.36,296.32 231.06,295.57 231.77,294.90 232.47,294.27 233.17,293.68 233.88,293.12 234.58,292.59 235.28,292.08 235.99,291.59 236.69,291.11 237.39,290.65 238.10,290.20 238.80,289.78 239.51,289.38 240.21,289.01 240.91,288.67 241.62,288.32 242.32,287.98 243.02,287.67 243.73,287.40 244.43,287.19 245.14,287.06 245.84,286.97 246.54,286.89 247.25,286.83 247.95,286.79 248.65,286.80 249.36,287.19 250.06,287.92 250.76,288.69 251.47,289.45 252.17,290.29 252.88,291.21 253.58,292.18 254.28,293.23 254.99,294.35 255.69,295.52 256.39,296.70 257.10,297.87 257.80,299.02 258.51,300.14 259.21,301.25 259.91,302.36 260.62,303.47 261.32,304.59 262.02,305.71 262.73,306.85 263.43,308.03 264.13,309.23 264.84,310.43 265.54,311.60 266.25,312.72 266.95,313.75 267.65,314.70 268.36,315.59 269.06,316.45 269.76,317.28 270.47,318.09 271.17,318.92 271.88,319.77 272.58,320.64 273.28,321.52 273.99,322.40 274.69,323.24 275.39,324.02 276.10,324.73 276.80,325.37 277.50,325.97 278.21,326.54 278.91,327.08 279.62,327.59 280.32,328.08 281.02,328.56 281.73,329.04 282.43,329.49 283.13,329.93 283.84,330.35 284.54,330.74 285.24,331.10 285.95,331.43 286.65,331.75 287.36,332.05 288.06,332.34 288.76,332.61 289.47,332.86 290.17,333.09 290.87,333.31 291.58,333.53 292.28,333.74 292.99,333.94 293.69,334.12 294.39,334.30 295.10,334.46 295.80,334.60 296.51,333.75 297.21,332.92 297.92,332.12 298.62,331.34 299.33,330.59 300.04,329.87 300.74,329.16 301.45,328.44 302.16,327.69 302.86,326.92 303.57,326.16 304.27,325.41 304.98,324.70 305.69,324.06 306.39,323.49 307.10,322.98 307.80,322.51 308.51,322.06 309.22,321.65 309.92,321.26 310.63,320.89 311.34,320.53 312.04,320.19 312.75,319.87 313.45,319.57 314.16,319.28 314.87,319.00 315.57,318.72 316.28,318.45 316.99,318.16 317.69,317.87 318.40,317.57 319.10,317.27 319.81,316.97 320.52,316.68 321.22,316.42 321.93,316.17 322.63,315.95 323.34,315.76 324.05,315.58 324.75,315.41 325.46,315.23 326.17,315.05 326.87,314.86 327.58,314.63 328.28,314.41 328.99,314.17 329.70,313.91 330.40,313.61 331.11,313.27 331.81,312.85 332.52,312.26 333.23,311.54 333.93,310.73 334.64,309.92 335.35,309.16 336.05,308.50 336.76,307.91 337.46,307.34 338.17,306.78 338.88,306.20 339.58,305.57 340.29,304.88 341.00,304.15 341.70,303.37 342.41,302.55 343.11,301.66 343.82,300.73 344.53,299.72 345.23,298.63 345.94,297.47 346.64,296.22 347.35,294.89 348.06,293.47 348.76,291.95 349.47,290.25 350.18,288.39 350.88,286.39 351.59,284.19 352.29,281.79 353.00,279.21 353.70,281.24 354.40,283.17 355.10,284.94 355.80,286.55 356.50,288.07 357.20,289.51 357.90,290.85 358.60,292.08 359.30,293.18" stroke="#0d72be" stroke-width="2.1"/>
<polyline points="194.60,335.99 195.39,336.28 196.17,336.65 196.96,337.07 197.74,337.53 198.53,338.08 199.31,338.70 200.10,339.40 200.80,339.02 201.50,338.15 202.21,336.89 202.91,334.68 203.61,332.26 204.31,330.29 205.02,328.36 205.72,325.88 206.42,323.08 207.12,320.57 207.82,318.13 208.53,315.83 209.23,313.74 209.93,311.86 210.63,310.11 211.34,308.51 212.04,307.08 212.74,305.78 213.44,304.61 214.14,303.52 214.85,302.50 215.55,301.56 216.25,300.69 216.95,299.87 217.65,299.04 218.36,298.16 219.06,297.23 219.76,296.29 220.46,295.33 221.17,294.34 221.87,293.32 222.57,292.26 223.27,291.15 223.97,289.94 224.68,288.64 225.38,287.30 226.08,285.97 226.78,284.68 227.49,283.49 228.19,282.39 228.89,281.31 229.59,280.27 230.29,279.27 231.00,278.32 231.70,277.44 232.40,276.62 233.10,275.83 233.81,275.08 234.51,274.36 235.21,273.69 235.91,273.08 236.61,272.54 237.32,272.06 238.02,271.59 238.72,271.15 239.42,270.75 240.12,270.40 240.83,270.13 241.53,269.95 242.23,269.82 242.93,269.72 243.64,269.63 244.34,269.55 245.04,269.45 245.74,269.31 246.44,269.15 247.15,269.00 247.85,268.93 248.55,269.07 249.25,269.58 249.96,270.29 250.66,271.04 251.36,271.96 252.06,273.06 252.76,274.24 253.47,275.41 254.17,276.60 254.87,277.83 255.57,279.09 256.28,280.38 256.98,281.69 257.68,283.01 258.38,284.35 259.08,285.73 259.79,287.13 260.49,288.55 261.19,289.97 261.89,291.39 262.59,292.81 263.30,294.23 264.00,295.67 264.70,297.11 265.40,298.54 266.11,299.94 266.81,301.32 267.51,302.67 268.21,304.04 268.91,305.39 269.62,306.71 270.32,307.97 271.02,309.13 271.72,310.18 272.43,311.14 273.13,312.05 273.83,312.90 274.53,313.71 275.23,314.50 275.94,315.26 276.64,316.02 277.34,316.74 278.04,317.45 278.75,318.13 279.45,318.79 280.15,319.44 280.85,320.07 281.55,320.69 282.26,321.28 282.96,321.86 283.66,322.43 284.36,323.00 285.06,323.57 285.77,324.14 286.47,324.71 287.17,325.29 287.87,325.85 288.58,326.41 289.28,326.96 289.98,327.50 290.68,328.03 291.38,328.56 292.09,329.07 292.79,329.58 293.49,330.09 294.19,330.58 294.90,331.07 295.60,331.56 296.30,332.03 297.01,330.90 297.72,329.81 298.43,328.75 299.13,327.72 299.84,326.73 300.55,325.76 301.26,324.78 301.97,323.77 302.68,322.73 303.39,321.67 304.10,320.63 304.81,319.62 305.51,318.67 306.22,317.78 306.93,316.96 307.64,316.17 308.35,315.41 309.06,314.69 309.77,314.00 310.48,313.35 311.18,312.76 311.89,312.22 312.60,311.73 313.31,311.28 314.02,310.87 314.73,310.47 315.44,310.08 316.14,309.68 316.85,309.26 317.56,308.82 318.27,308.37 318.98,307.92 319.69,307.47 320.40,307.03 321.11,306.60 321.81,306.19 322.52,305.81 323.23,305.46 323.94,305.14 324.65,304.82 325.36,304.50 326.07,304.17 326.78,303.81 327.49,303.43 328.19,303.05 328.90,302.65 329.61,302.23 330.32,301.76 331.03,301.23 331.74,300.59 332.45,299.73 333.16,298.66 333.86,297.49 334.57,296.30 335.28,295.17 335.99,294.18 336.70,293.30 337.41,292.47 338.12,291.65 338.82,290.80 339.53,289.87 340.24,288.84 340.95,287.67 341.66,286.41 342.37,285.10 343.08,283.76 343.79,282.45 344.50,281.19 345.20,280.00 345.91,278.81 346.62,277.59 347.33,276.26 348.04,274.78 348.75,273.04 349.46,271.01 350.17,268.78 350.87,266.48 351.58,264.06 352.29,261.48 353.00,258.78 353.72,261.29 354.44,263.67 355.17,265.85 355.89,267.80 356.61,269.65 357.33,271.40 358.06,273.02 358.78,274.50 359.50,275.80" stroke="#ff7f0e" stroke-width="2.1"/>
<polyline points="194.60,339.12 195.39,339.41 196.17,339.77 196.96,340.19 197.74,340.66 198.53,341.20 199.31,341.83 200.10,342.52 200.80,342.14 201.50,341.28 202.21,340.05 202.91,337.93 203.61,335.45 204.31,333.03 205.02,330.43 205.72,327.73 206.42,325.02 207.12,322.51 207.82,320.07 208.53,317.78 209.23,315.69 209.93,313.80 210.63,312.06 211.34,310.46 212.04,309.02 212.74,307.73 213.44,306.55 214.14,305.46 214.85,304.44 215.55,303.50 216.25,302.64 216.95,301.81 217.65,300.98 218.36,300.11 219.06,299.18 219.76,298.24 220.46,297.27 221.17,296.29 221.87,295.27 222.57,294.21 223.27,293.10 223.97,291.88 224.68,290.58 225.38,289.25 226.08,287.91 226.78,286.63 227.49,285.44 228.19,284.34 228.89,283.26 229.59,282.23 230.29,281.23 231.00,280.29 231.70,279.39 232.40,278.56 233.10,277.77 233.81,277.02 234.51,276.30 235.21,275.62 235.91,274.98 236.61,274.36 237.32,273.77 238.02,273.18 238.72,272.61 239.42,272.07 240.12,271.58 240.83,271.16 241.53,270.81 242.23,270.51 242.93,270.25 243.64,270.02 244.34,269.81 245.04,269.63 245.74,269.45 246.44,269.28 247.15,269.13 247.85,269.06 248.55,269.21 249.25,269.72 249.96,270.43 250.66,271.18 251.36,272.09 252.06,273.20 252.76,274.38 253.47,275.55 254.17,276.74 254.87,277.97 255.57,279.23 256.28,280.52 256.98,281.83 257.68,283.15 258.38,284.49 259.08,285.87 259.79,287.27 260.49,288.68 261.19,290.11 261.89,291.53 262.59,292.94 263.30,294.37 264.00,295.81 264.70,297.25 265.40,298.68 266.11,300.08 266.81,301.45 267.51,302.80 268.21,304.14 268.91,305.47 269.62,306.77 270.32,308.03 271.02,309.22 271.72,310.35 272.43,311.41 273.13,312.42 273.83,313.40 274.53,314.34 275.23,315.27 275.94,316.18 276.64,317.08 277.34,317.97 278.04,318.85 278.75,319.70 279.45,320.53 280.15,321.34 280.85,322.12 281.55,322.87 282.26,323.61 282.96,324.32 283.66,325.01 284.36,325.68 285.06,326.33 285.77,326.95 286.47,327.54 287.17,328.11 287.87,328.67 288.58,329.21 289.28,329.75 289.98,330.28 290.68,330.81 291.38,331.34 292.09,331.85 292.79,332.36 293.49,332.87 294.19,333.36 294.90,333.85 295.60,334.34 296.30,334.81 297.01,333.68 297.72,332.59 298.43,331.53 299.13,330.50 299.84,329.51 300.55,328.54 301.26,327.56 301.97,326.55 302.68,325.51 303.39,324.45 304.10,323.41 304.81,322.40 305.51,321.45 306.22,320.56 306.93,319.74 307.64,318.95 308.35,318.19 309.06,317.47 309.77,316.78 310.48,316.13 311.18,315.54 311.89,315.00 312.60,314.51 313.31,314.06 314.02,313.65 314.73,313.25 315.44,312.86 316.14,312.46 316.85,312.04 317.56,311.60 318.27,311.15 318.98,310.70 319.69,310.25 320.40,309.81 321.11,309.38 321.81,308.97 322.52,308.59 323.23,308.24 323.94,307.92 324.65,307.60 325.36,307.28 326.07,306.95 326.78,306.59 327.49,306.21 328.19,305.83 328.90,305.43 329.61,305.01 330.32,304.54 331.03,304.01 331.74,303.37 332.45,302.51 333.16,301.44 333.86,300.27 334.57,299.08 335.28,297.95 335.99,296.96 336.70,296.08 337.41,295.25 338.12,294.43 338.82,293.58 339.53,292.65 340.24,291.62 340.95,290.49 341.66,289.27 342.37,287.98 343.08,286.64 343.79,285.26 344.50,283.85 345.20,282.39 345.91,280.87 346.62,279.28 347.33,277.62 348.04,275.87 348.75,274.01 349.46,272.00 350.17,269.84 350.87,267.50 351.58,264.92 352.29,262.12 353.00,259.12 353.70,261.58 354.40,263.90 355.10,266.02 355.80,267.90 356.50,269.67 357.20,271.33 357.90,272.86 358.60,274.25 359.30,275.46" stroke="#0c9c10" stroke-width="2.1"/>
<polyline points="194.60,334.39 195.39,334.65 196.17,334.98 196.96,335.36 197.74,335.78 198.53,336.28 199.31,336.87 200.10,337.52 200.80,337.15 201.51,336.33 202.21,334.83 202.91,332.74 203.62,330.28 204.32,327.50 205.03,324.41 205.73,321.44 206.43,318.74 207.14,316.17 207.84,313.72 208.54,311.41 209.25,309.13 209.95,306.96 210.66,305.01 211.36,303.39 212.06,302.00 212.77,300.76 213.47,299.64 214.17,298.64 214.88,297.75 215.58,296.94 216.28,296.17 216.99,295.38 217.69,294.54 218.40,293.69 219.10,292.84 219.80,291.97 220.51,291.08 221.21,290.14 221.91,289.14 222.62,288.06 223.32,286.86 224.03,285.58 224.73,284.26 225.43,282.94 226.14,281.65 226.84,280.43 227.54,279.24 228.25,278.05 228.95,276.88 229.65,275.75 230.36,274.66 231.06,273.63 231.77,272.68 232.47,271.77 233.17,270.91 233.88,270.08 234.58,269.27 235.28,268.49 235.99,267.71 236.69,266.94 237.39,266.18 238.10,265.44 238.80,264.72 239.51,264.04 240.21,263.40 240.91,262.81 241.62,262.23 242.32,261.68 243.02,261.15 243.73,260.67 244.43,260.24 245.14,259.87 245.84,259.51 246.54,259.24 247.25,259.27 247.95,259.78 248.65,260.59 249.36,261.46 250.06,262.28 250.76,263.20 251.47,264.19 252.17,265.24 252.88,266.33 253.58,267.45 254.28,268.62 254.99,269.86 255.69,271.14 256.39,272.45 257.10,273.78 257.80,275.11 258.51,276.46 259.21,277.84 259.91,279.25 260.62,280.67 261.32,282.10 262.02,283.52 262.73,284.94 263.43,286.37 264.13,287.81 264.84,289.26 265.54,290.68 266.25,292.09 266.95,293.45 267.65,294.79 268.36,296.11 269.06,297.41 269.76,298.69 270.47,299.94 271.17,301.16 271.88,302.36 272.58,303.54 273.28,304.70 273.99,305.83 274.69,306.94 275.39,308.03 276.10,309.09 276.80,310.13 277.50,311.14 278.21,312.14 278.91,313.11 279.62,314.06 280.32,314.99 281.02,315.90 281.73,316.80 282.43,317.68 283.13,318.55 283.84,319.39 284.54,320.20 285.24,320.99 285.95,321.75 286.65,322.49 287.36,323.21 288.06,323.91 288.76,324.58 289.47,325.24 290.17,325.88 290.87,326.50 291.58,327.11 292.28,327.70 292.99,328.28 293.69,328.85 294.39,329.39 295.10,329.92 295.80,330.43 296.51,329.46 297.21,328.47 297.92,327.46 298.62,326.42 299.33,325.36 300.04,324.26 300.74,323.16 301.45,322.04 302.16,320.86 302.86,319.64 303.57,318.41 304.27,317.20 304.98,316.04 305.69,314.98 306.39,314.04 307.10,313.20 307.80,312.40 308.51,311.65 309.22,310.94 309.92,310.28 310.63,309.66 311.34,309.09 312.04,308.57 312.75,308.09 313.45,307.65 314.16,307.23 314.87,306.84 315.57,306.44 316.28,306.05 316.99,305.64 317.69,305.21 318.40,304.79 319.10,304.36 319.81,303.94 320.52,303.52 321.22,303.11 321.93,302.72 322.63,302.35 323.34,302.00 324.05,301.67 324.75,301.34 325.46,301.00 326.17,300.66 326.87,300.29 327.58,299.90 328.28,299.52 328.99,299.12 329.70,298.70 330.40,298.23 331.11,297.69 331.81,297.04 332.52,296.17 333.23,295.13 333.93,293.98 334.64,292.79 335.35,291.64 336.05,290.58 336.76,289.56 337.46,288.57 338.17,287.55 338.88,286.50 339.58,285.37 340.29,284.15 341.00,282.84 341.70,281.44 342.41,279.98 343.11,278.46 343.82,276.90 344.53,275.31 345.23,273.68 345.94,271.99 346.64,270.23 347.35,268.37 348.06,266.42 348.76,264.34 349.47,262.10 350.18,259.65 350.88,256.93 351.59,253.83 352.29,250.37 353.00,246.61 353.70,249.27 354.40,251.83 355.10,254.26 355.80,256.54 356.50,258.74 357.20,260.86 357.90,262.89 358.60,264.82 359.30,266.63" stroke="#fb0d0d" stroke-width="2.1"/>
<polyline points="194.60,349.38 197.34,349.31 200.08,349.25 202.82,349.17 205.57,349.17 208.31,349.10 211.05,349.24 213.79,349.12 216.53,348.99 219.28,349.02 222.02,348.95 224.76,349.09 227.50,349.00 230.24,349.04 232.98,348.98 235.72,348.97 238.47,349.10 241.21,349.07 243.95,349.07 246.69,348.96 249.43,349.02 252.18,349.17 254.92,349.07 257.66,349.25 260.40,349.19 263.14,349.33 265.88,349.40 268.62,349.27 271.37,349.45 274.11,349.50 276.85,349.38 279.59,349.45 282.33,349.62 285.07,349.52 287.82,349.64 290.56,349.65 293.30,349.78 296.04,349.66 298.78,349.73 301.52,349.69 304.27,349.72 307.01,349.86 309.75,349.85 312.49,349.89 315.23,349.89 317.98,349.89 320.72,349.83 323.46,349.75 326.20,349.85 328.94,349.68 331.68,349.71 334.43,349.68 337.17,349.54 339.91,349.57 342.65,349.56 345.39,349.48 348.13,349.39 350.88,349.47 353.62,349.24 356.36,349.39 359.10,349.20" stroke="#a658cc" stroke-width="1.9"/>
<polyline points="194.25,390.20 199.90,390.20 199.90,370.74 245.40,370.74 246.43,371.89 247.47,373.02 248.50,374.10 249.54,375.15 250.57,376.16 251.60,377.13 252.64,378.08 253.67,378.99 254.71,379.88 255.74,380.74 256.77,381.58 257.81,382.38 258.84,383.14 259.88,383.86 260.91,384.54 261.94,385.17 262.98,385.72 264.01,386.23 265.05,386.69 266.08,387.10 267.11,387.48 268.15,387.82 269.18,388.11 270.22,388.34 271.25,388.53 272.28,388.70 273.32,388.86 274.35,389.00 275.39,389.13 276.42,389.25 277.45,389.38 278.49,389.51 279.52,389.63 280.56,389.74 281.59,389.84 282.62,389.92 283.66,390.01 284.69,390.08 285.73,390.15 286.76,390.20 295.64,390.20 295.64,410.22 353.30,410.22 353.30,390.20 359.10,390.20" stroke="#00008b" stroke-width="1.9" stroke-linejoin="miter"/>
</g>
<rect x="187.2" y="239.2" width="180.10000000000002" height="179.2" fill="none" stroke="#303030" stroke-width="1.1"/>
<line x1="182.39999999999998" y1="404.10" x2="187.2" y2="404.10" stroke="#303030" stroke-width="1.1"/>
<text class="tb" x="180.2" y="408.00" font-size="11.4" text-anchor="end" textLength="10.8" lengthAdjust="spacingAndGlyphs" fill="#1a1a1a">15</text>
<line x1="182.39999999999998" y1="369.35" x2="187.2" y2="369.35" stroke="#303030" stroke-width="1.1"/>
<text class="tb" x="180.2" y="373.25" font-size="11.4" text-anchor="end" textLength="10.8" lengthAdjust="spacingAndGlyphs" fill="#1a1a1a">20</text>
<line x1="182.39999999999998" y1="334.60" x2="187.2" y2="334.60" stroke="#303030" stroke-width="1.1"/>
<text class="tb" x="180.2" y="338.50" font-size="11.4" text-anchor="end" textLength="10.8" lengthAdjust="spacingAndGlyphs" fill="#1a1a1a">25</text>
<line x1="182.39999999999998" y1="299.85" x2="187.2" y2="299.85" stroke="#303030" stroke-width="1.1"/>
<text class="tb" x="180.2" y="303.75" font-size="11.4" text-anchor="end" textLength="10.8" lengthAdjust="spacingAndGlyphs" fill="#1a1a1a">30</text>
<line x1="182.39999999999998" y1="265.10" x2="187.2" y2="265.10" stroke="#303030" stroke-width="1.1"/>
<text class="tb" x="180.2" y="269.00" font-size="11.4" text-anchor="end" textLength="10.8" lengthAdjust="spacingAndGlyphs" fill="#1a1a1a">35</text>
<line x1="195.10" y1="418.4" x2="195.10" y2="423.2" stroke="#303030" stroke-width="1.1"/>
<text class="tb" x="195.30" y="432.4" font-size="11.4" text-anchor="middle" textLength="5.4" lengthAdjust="spacingAndGlyphs" fill="#1a1a1a">0</text>
<line x1="254.27" y1="418.4" x2="254.27" y2="423.2" stroke="#303030" stroke-width="1.1"/>
<text class="tb" x="254.47" y="432.4" font-size="11.4" text-anchor="middle" textLength="5.4" lengthAdjust="spacingAndGlyphs" fill="#1a1a1a">1</text>
<line x1="313.44" y1="418.4" x2="313.44" y2="423.2" stroke="#303030" stroke-width="1.1"/>
<text class="tb" x="313.64" y="432.4" font-size="11.4" text-anchor="middle" textLength="5.4" lengthAdjust="spacingAndGlyphs" fill="#1a1a1a">2</text>
<text class="ax" x="277.0" y="443.9" font-size="11.4" text-anchor="middle" textLength="63.3" lengthAdjust="spacingAndGlyphs" fill="#1a1a1a">Time (Hours)</text>
<text class="ax" transform="translate(163.5,328.5) rotate(-90)" font-size="11.4" text-anchor="middle" textLength="81.2" lengthAdjust="spacingAndGlyphs" fill="#1a1a1a">Temperature (°C)</text>
<text x="204.5" y="382.4" font-size="12.3" textLength="11.7" lengthAdjust="spacingAndGlyphs" fill="#1a1a1a">CC</text>
<text x="204.5" y="393.9" font-size="12.3" textLength="32.3" lengthAdjust="spacingAndGlyphs" fill="#1a1a1a">Charge</text>
<text x="248.6" y="396.7" font-size="12.3" textLength="12.3" lengthAdjust="spacingAndGlyphs" fill="#1a1a1a">CV</text>
<text x="248.6" y="407.4" font-size="12.3" textLength="32.3" lengthAdjust="spacingAndGlyphs" fill="#1a1a1a">Charge</text>
<text x="257.6" y="362.3" font-size="12.3" textLength="19.4" lengthAdjust="spacingAndGlyphs" fill="#1a1a1a">Rest</text>
<text x="301.8" y="395.2" font-size="12.3" textLength="11.8" lengthAdjust="spacingAndGlyphs" fill="#1a1a1a">CC</text>
<text x="301.8" y="406.6" font-size="12.3" textLength="46.2" lengthAdjust="spacingAndGlyphs" fill="#1a1a1a">Discharge</text>
<text x="371.0" y="373.0" font-size="11.3" textLength="21.0" lengthAdjust="spacingAndGlyphs" fill="#fb0d0d" class="r">+3 A</text>
<text x="371.9" y="414.4" font-size="11.3" textLength="18.8" lengthAdjust="spacingAndGlyphs" fill="#fb0d0d" class="r">-3 A</text>
<line x1="271.8" y1="364.3" x2="287.2" y2="374.0" stroke="#111" stroke-width="1.4"/>
<polygon points="290.4,375.9 284.2,375.1 286.9,371.0" fill="#111"/>
<text x="274.6" y="464.2" font-size="10.6" text-anchor="middle" fill="#1a1a1a">(<tspan font-weight="bold">b</tspan>)</text>
</svg>
</body></html>
